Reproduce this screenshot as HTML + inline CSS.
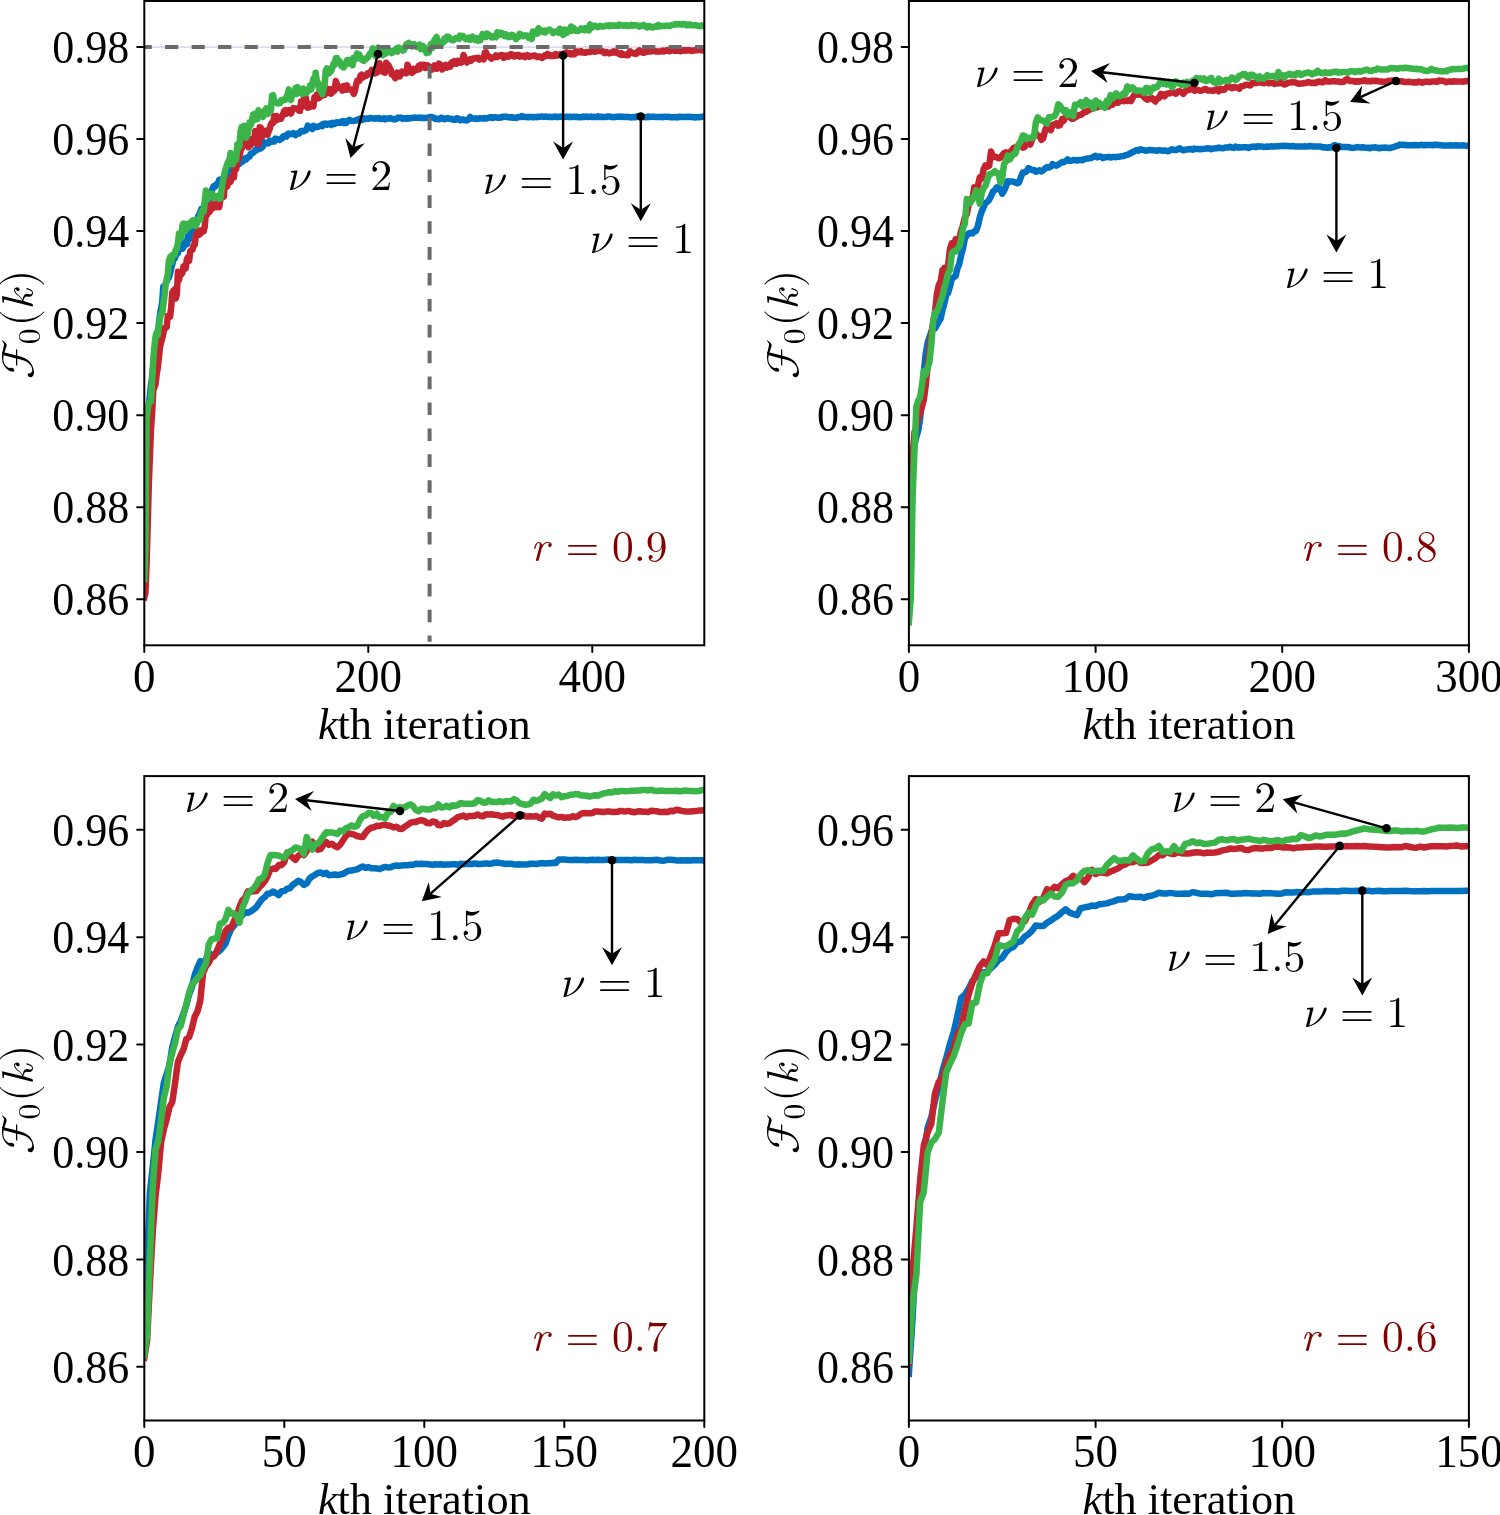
<!DOCTYPE html>
<html><head><meta charset="utf-8"><title>plot</title><style>html,body{margin:0;padding:0;background:#fff;overflow:hidden}svg{display:block}</style></head><body>
<svg width="1500" height="1515" viewBox="0 0 1500 1515">
<rect width="1500" height="1515" fill="#fff"/>
<defs>
<clipPath id="ca"><rect x="144.3" y="1.0" width="560.0" height="644.3"/></clipPath>
<clipPath id="cb"><rect x="908.9" y="1.0" width="560.0" height="644.3"/></clipPath>
<clipPath id="cc"><rect x="144.3" y="776.1" width="560.0" height="644.4"/></clipPath>
<clipPath id="cd"><rect x="908.9" y="776.1" width="560.0" height="644.4"/></clipPath>
</defs>
<g clip-path="url(#ca)">
<line x1="144.3" y1="47.2" x2="704.3" y2="47.2" stroke="#cdd0ea" stroke-width="1.2"/>
<path d="M144.3,584.8 L145.4,563.8 L146.5,448.6 L147.7,412.3 L148.8,404.5 L149.9,395.8 L151.0,384.6 L152.1,376.9 L153.3,365.1 L154.4,359.0 L155.5,352.8 L156.6,344.3 L157.7,334.9 L158.9,323.9 L160.0,314.1 L161.1,308.4 L162.2,302.3 L163.3,286.4 L164.5,286.2 L165.6,284.2 L166.7,281.3 L167.8,278.8 L168.9,277.5 L170.1,273.3 L171.2,268.1 L172.3,264.3 L173.4,259.8 L174.5,258.7 L175.7,256.3 L176.8,251.1 L177.9,253.2 L179.0,245.6 L180.1,246.4 L181.3,244.8 L182.4,248.8 L183.5,247.2 L184.6,242.4 L185.7,241.5 L186.9,244.3 L188.0,236.0 L189.1,239.7 L190.2,234.3 L191.3,231.3 L192.5,228.4 L193.6,229.1 L194.7,223.9 L195.8,223.8 L196.9,222.5 L198.1,216.4 L199.2,215.1 L200.3,211.8 L201.4,208.9 L202.5,210.4 L203.7,208.2 L204.8,202.7 L205.9,202.0 L207.0,200.3 L208.1,201.8 L209.3,197.5 L210.4,198.9 L211.5,192.9 L212.6,188.2 L213.7,186.2 L214.9,186.7 L216.0,185.3 L217.1,183.7 L218.2,182.8 L219.3,179.7 L220.5,179.6 L221.6,179.1 L222.7,179.0 L223.8,176.7 L224.9,174.8 L226.1,174.9 L227.2,174.1 L228.3,169.3 L229.4,169.9 L230.5,170.1 L231.7,170.4 L232.8,169.4 L233.9,168.3 L235.0,163.9 L236.1,165.8 L237.3,160.9 L238.4,164.0 L239.5,163.9 L240.6,162.3 L241.7,161.2 L242.9,161.5 L244.0,158.8 L245.1,158.4 L246.2,159.3 L247.3,158.1 L248.5,156.9 L249.6,156.5 L250.7,153.8 L251.8,153.4 L252.9,153.0 L254.1,151.8 L255.2,150.2 L256.3,150.4 L257.4,147.4 L258.5,149.2 L259.7,147.2 L260.8,148.3 L261.9,147.3 L263.0,146.4 L264.1,142.4 L265.3,143.1 L266.4,143.2 L267.5,142.4 L268.6,143.3 L269.7,140.7 L270.9,141.0 L272.0,141.6 L273.1,140.8 L274.2,141.4 L275.3,138.5 L276.5,138.9 L277.6,139.4 L278.7,139.5 L279.8,140.0 L280.9,138.6 L282.1,138.4 L283.2,136.3 L284.3,135.9 L285.4,135.9 L286.5,136.5 L287.7,133.9 L288.8,133.6 L289.9,134.2 L291.0,133.9 L292.1,134.1 L293.3,133.2 L294.4,134.0 L295.5,135.1 L296.6,133.6 L297.7,133.3 L298.9,133.5 L300.0,132.5 L301.1,131.0 L302.2,131.1 L303.3,131.3 L304.5,130.4 L305.6,130.4 L306.7,129.3 L307.8,125.7 L308.9,127.3 L310.1,127.7 L311.2,128.3 L312.3,129.0 L313.4,125.9 L314.5,127.5 L315.7,126.8 L316.8,126.7 L317.9,127.0 L319.0,126.4 L320.1,126.0 L321.3,125.0 L322.4,126.1 L323.5,123.9 L324.6,124.4 L325.7,123.6 L326.9,124.8 L328.0,124.1 L329.1,123.5 L330.2,123.9 L331.3,125.0 L332.5,122.8 L333.6,124.1 L334.7,124.0 L335.8,122.4 L336.9,122.3 L338.1,122.9 L339.2,122.3 L340.3,122.7 L341.4,121.9 L342.5,121.1 L343.7,122.9 L344.8,121.4 L345.9,123.0 L347.0,122.0 L348.1,120.8 L349.3,119.9 L350.4,120.4 L351.5,121.0 L352.6,121.1 L353.7,120.9 L354.9,120.5 L356.0,120.5 L357.1,120.0 L358.2,119.4 L359.3,118.8 L360.5,119.7 L361.6,120.1 L362.7,119.7 L363.8,118.4 L364.9,118.8 L366.1,118.9 L367.2,118.4 L368.3,118.8 L369.4,118.2 L370.5,117.9 L371.7,118.3 L372.8,118.5 L373.9,118.4 L375.0,118.7 L376.1,118.3 L377.3,118.6 L378.4,117.9 L379.5,118.2 L380.6,118.9 L381.7,118.9 L382.9,118.7 L384.0,118.3 L385.1,119.3 L386.2,119.0 L387.3,118.4 L388.5,118.4 L389.6,118.7 L390.7,118.1 L391.8,118.6 L392.9,119.1 L394.1,119.4 L395.2,119.0 L396.3,118.9 L397.4,118.0 L398.5,117.6 L399.7,117.8 L400.8,117.6 L401.9,118.5 L403.0,118.9 L404.1,118.3 L405.3,118.3 L406.4,118.7 L407.5,118.0 L408.6,118.5 L409.7,118.6 L410.9,118.1 L412.0,118.0 L413.1,117.7 L414.2,117.7 L415.3,117.6 L416.5,117.8 L417.6,117.8 L418.7,117.8 L419.8,118.0 L420.9,117.6 L422.1,118.0 L423.2,117.9 L424.3,117.8 L425.4,118.1 L426.5,117.9 L427.7,117.6 L428.8,117.9 L429.9,117.1 L431.0,116.8 L432.1,117.5 L433.3,117.5 L434.4,118.2 L435.5,118.9 L436.6,118.8 L437.7,118.8 L438.9,119.2 L440.0,119.0 L441.1,117.8 L442.2,118.0 L443.3,118.7 L444.5,119.2 L445.6,118.7 L446.7,118.4 L447.8,118.0 L448.9,118.6 L450.1,119.0 L451.2,118.8 L452.3,119.0 L453.4,119.7 L454.5,119.2 L455.7,119.7 L456.8,118.2 L457.9,118.4 L459.0,119.4 L460.1,120.3 L461.3,119.5 L462.4,119.5 L463.5,119.7 L464.6,120.2 L465.7,120.1 L466.9,120.5 L468.0,119.6 L469.1,119.2 L470.2,117.0 L471.3,118.6 L472.5,118.6 L473.6,118.6 L474.7,118.7 L475.8,118.3 L476.9,118.9 L478.1,118.8 L479.2,118.3 L480.3,118.3 L481.4,118.4 L482.5,118.6 L483.7,118.0 L484.8,118.5 L485.9,118.3 L487.0,118.4 L488.1,117.9 L489.3,117.6 L490.4,117.2 L491.5,117.2 L492.6,117.9 L493.7,117.2 L494.9,117.2 L496.0,117.4 L497.1,117.5 L498.2,117.7 L499.3,117.7 L500.5,117.2 L501.6,117.5 L502.7,116.8 L503.8,116.7 L504.9,116.9 L506.1,116.6 L507.2,117.1 L508.3,117.2 L509.4,117.2 L510.5,117.5 L511.7,117.1 L512.8,117.7 L513.9,117.7 L515.0,117.7 L516.1,118.0 L517.3,117.5 L518.4,116.9 L519.5,116.9 L520.6,117.1 L521.7,116.0 L522.9,116.6 L524.0,117.0 L525.1,117.0 L526.2,117.1 L527.3,117.0 L528.5,117.3 L529.6,117.0 L530.7,117.1 L531.8,116.9 L532.9,117.3 L534.1,117.2 L535.2,117.1 L536.3,116.9 L537.4,117.2 L538.5,116.8 L539.7,116.8 L540.8,116.6 L541.9,116.6 L543.0,116.7 L544.1,116.7 L545.3,116.6 L546.4,116.7 L547.5,116.9 L548.6,117.0 L549.7,116.8 L550.9,116.9 L552.0,117.0 L553.1,117.0 L554.2,116.8 L555.3,116.5 L556.5,116.9 L557.6,116.8 L558.7,116.9 L559.8,116.8 L560.9,116.7 L562.1,116.5 L563.2,116.9 L564.3,116.9 L565.4,116.9 L566.5,116.7 L567.7,116.9 L568.8,117.0 L569.9,116.8 L571.0,117.0 L572.1,116.9 L573.3,116.7 L574.4,116.7 L575.5,117.1 L576.6,116.7 L577.7,117.0 L578.9,117.2 L580.0,117.2 L581.1,117.1 L582.2,117.0 L583.3,116.5 L584.5,116.9 L585.6,116.8 L586.7,116.5 L587.8,116.9 L588.9,116.9 L590.1,116.8 L591.2,116.5 L592.3,117.1 L593.4,116.8 L594.5,117.1 L595.7,117.0 L596.8,117.0 L597.9,116.3 L599.0,116.7 L600.1,117.1 L601.3,116.8 L602.4,117.0 L603.5,117.1 L604.6,116.9 L605.7,117.0 L606.9,116.7 L608.0,116.5 L609.1,116.6 L610.2,116.7 L611.3,117.0 L612.5,117.1 L613.6,117.2 L614.7,117.1 L615.8,116.8 L616.9,116.7 L618.1,116.8 L619.2,116.6 L620.3,116.9 L621.4,116.8 L622.5,116.7 L623.7,117.0 L624.8,116.9 L625.9,116.9 L627.0,116.8 L628.1,117.1 L629.3,117.1 L630.4,117.4 L631.5,117.3 L632.6,117.2 L633.7,117.1 L634.9,117.3 L636.0,117.0 L637.1,116.2 L638.2,116.5 L639.3,116.9 L640.5,117.1 L641.6,117.2 L642.7,117.1 L643.8,116.9 L644.9,117.1 L646.1,117.3 L647.2,116.9 L648.3,116.5 L649.4,117.1 L650.5,116.9 L651.7,116.7 L652.8,116.7 L653.9,116.7 L655.0,116.9 L656.1,116.9 L657.3,117.1 L658.4,117.1 L659.5,116.9 L660.6,117.0 L661.7,116.9 L662.9,117.2 L664.0,116.8 L665.1,116.8 L666.2,116.9 L667.3,116.9 L668.5,116.7 L669.6,117.1 L670.7,117.2 L671.8,117.2 L672.9,117.2 L674.1,117.2 L675.2,117.1 L676.3,117.2 L677.4,117.4 L678.5,117.2 L679.7,116.6 L680.8,116.9 L681.9,117.1 L683.0,117.0 L684.1,117.1 L685.3,116.9 L686.4,116.8 L687.5,117.1 L688.6,116.7 L689.7,116.9 L690.9,117.1 L692.0,116.8 L693.1,117.1 L694.2,117.5 L695.3,117.3 L696.5,117.3 L697.6,117.1 L698.7,117.3 L699.8,117.1 L700.9,117.0 L702.1,116.8 L703.2,116.7 L704.3,116.3" fill="none" stroke="#0070c0" stroke-width="6.5" stroke-linejoin="round" stroke-linecap="square"/>
<path d="M144.3,597.2 L145.4,593.2 L146.5,566.0 L147.7,525.9 L148.8,484.4 L149.9,456.9 L151.0,428.4 L152.1,413.7 L153.3,390.4 L154.4,387.3 L155.5,384.6 L156.6,374.9 L157.7,368.3 L158.9,357.8 L160.0,347.1 L161.1,342.2 L162.2,338.7 L163.3,333.6 L164.5,328.0 L165.6,327.8 L166.7,327.3 L167.8,315.7 L168.9,317.2 L170.1,316.9 L171.2,307.2 L172.3,292.3 L173.4,290.8 L174.5,289.5 L175.7,298.5 L176.8,294.8 L177.9,271.8 L179.0,280.1 L180.1,274.8 L181.3,274.4 L182.4,272.7 L183.5,266.2 L184.6,269.2 L185.7,268.4 L186.9,258.9 L188.0,257.2 L189.1,260.8 L190.2,251.4 L191.3,250.3 L192.5,249.7 L193.6,245.0 L194.7,244.8 L195.8,236.2 L196.9,233.2 L198.1,230.4 L199.2,234.8 L200.3,233.7 L201.4,230.4 L202.5,231.7 L203.7,231.2 L204.8,226.3 L205.9,212.5 L207.0,214.9 L208.1,208.8 L209.3,212.1 L210.4,210.6 L211.5,204.4 L212.6,208.1 L213.7,207.1 L214.9,201.2 L216.0,207.3 L217.1,204.3 L218.2,205.0 L219.3,207.1 L220.5,198.6 L221.6,197.3 L222.7,197.1 L223.8,196.7 L224.9,181.5 L226.1,186.7 L227.2,186.6 L228.3,180.7 L229.4,181.0 L230.5,181.9 L231.7,177.0 L232.8,177.3 L233.9,177.3 L235.0,167.1 L236.1,169.3 L237.3,163.4 L238.4,158.4 L239.5,156.1 L240.6,150.4 L241.7,148.5 L242.9,144.5 L244.0,135.5 L245.1,138.8 L246.2,139.8 L247.3,141.1 L248.5,147.3 L249.6,144.3 L250.7,145.0 L251.8,138.7 L252.9,138.6 L254.1,142.5 L255.2,131.0 L256.3,134.0 L257.4,136.7 L258.5,144.2 L259.7,127.2 L260.8,127.7 L261.9,137.3 L263.0,133.3 L264.1,130.9 L265.3,134.1 L266.4,130.5 L267.5,134.8 L268.6,131.4 L269.7,128.9 L270.9,124.5 L272.0,122.6 L273.1,123.0 L274.2,116.1 L275.3,120.9 L276.5,116.0 L277.6,119.7 L278.7,117.6 L279.8,118.5 L280.9,118.8 L282.1,116.4 L283.2,113.7 L284.3,110.9 L285.4,110.1 L286.5,113.6 L287.7,111.8 L288.8,110.1 L289.9,111.5 L291.0,113.5 L292.1,110.6 L293.3,108.1 L294.4,108.5 L295.5,108.5 L296.6,108.4 L297.7,109.0 L298.9,110.8 L300.0,110.8 L301.1,101.5 L302.2,106.7 L303.3,101.6 L304.5,96.0 L305.6,96.9 L306.7,102.4 L307.8,107.8 L308.9,103.9 L310.1,107.0 L311.2,104.5 L312.3,105.2 L313.4,106.2 L314.5,97.2 L315.7,99.1 L316.8,94.5 L317.9,94.3 L319.0,98.2 L320.1,94.4 L321.3,96.3 L322.4,93.6 L323.5,92.3 L324.6,94.9 L325.7,87.9 L326.9,88.6 L328.0,89.1 L329.1,92.8 L330.2,89.1 L331.3,93.7 L332.5,89.5 L333.6,91.3 L334.7,90.4 L335.8,81.0 L336.9,84.1 L338.1,85.8 L339.2,87.5 L340.3,88.3 L341.4,88.3 L342.5,90.6 L343.7,85.9 L344.8,86.0 L345.9,89.6 L347.0,85.3 L348.1,89.4 L349.3,89.2 L350.4,89.6 L351.5,89.6 L352.6,89.8 L353.7,93.9 L354.9,91.0 L356.0,85.2 L357.1,80.7 L358.2,81.1 L359.3,81.0 L360.5,75.6 L361.6,74.6 L362.7,77.6 L363.8,76.6 L364.9,75.9 L366.1,76.0 L367.2,73.5 L368.3,73.1 L369.4,74.1 L370.5,72.7 L371.7,70.0 L372.8,73.5 L373.9,73.1 L375.0,73.4 L376.1,69.1 L377.3,72.5 L378.4,69.3 L379.5,63.3 L380.6,68.6 L381.7,68.9 L382.9,71.8 L384.0,72.4 L385.1,72.7 L386.2,62.8 L387.3,65.5 L388.5,65.2 L389.6,68.2 L390.7,69.5 L391.8,74.5 L392.9,73.6 L394.1,75.8 L395.2,78.2 L396.3,76.2 L397.4,72.5 L398.5,73.2 L399.7,76.5 L400.8,73.1 L401.9,71.8 L403.0,72.8 L404.1,73.0 L405.3,72.2 L406.4,73.3 L407.5,64.7 L408.6,67.8 L409.7,68.7 L410.9,70.6 L412.0,72.9 L413.1,68.9 L414.2,71.0 L415.3,70.3 L416.5,68.7 L417.6,69.5 L418.7,66.1 L419.8,69.0 L420.9,64.9 L422.1,65.5 L423.2,64.8 L424.3,64.8 L425.4,67.9 L426.5,66.2 L427.7,65.3 L428.8,66.3 L429.9,66.9 L431.0,69.8 L432.1,69.5 L433.3,67.2 L434.4,65.5 L435.5,67.8 L436.6,68.7 L437.7,67.5 L438.9,63.7 L440.0,64.7 L441.1,66.6 L442.2,69.5 L443.3,65.8 L444.5,67.1 L445.6,64.8 L446.7,67.7 L447.8,65.6 L448.9,65.8 L450.1,66.6 L451.2,63.0 L452.3,62.1 L453.4,63.9 L454.5,61.0 L455.7,63.2 L456.8,63.6 L457.9,60.8 L459.0,61.7 L460.1,60.9 L461.3,62.6 L462.4,60.7 L463.5,55.0 L464.6,57.8 L465.7,60.4 L466.9,62.5 L468.0,60.8 L469.1,61.0 L470.2,59.2 L471.3,60.5 L472.5,58.8 L473.6,58.4 L474.7,58.5 L475.8,58.0 L476.9,58.2 L478.1,57.9 L479.2,59.5 L480.3,58.5 L481.4,58.7 L482.5,58.7 L483.7,59.4 L484.8,52.7 L485.9,52.1 L487.0,54.9 L488.1,55.9 L489.3,56.7 L490.4,57.6 L491.5,58.6 L492.6,57.6 L493.7,57.3 L494.9,57.1 L496.0,55.3 L497.1,56.9 L498.2,56.3 L499.3,55.9 L500.5,55.3 L501.6,55.1 L502.7,55.2 L503.8,57.9 L504.9,56.5 L506.1,55.6 L507.2,55.5 L508.3,56.7 L509.4,56.2 L510.5,54.3 L511.7,54.2 L512.8,55.6 L513.9,56.4 L515.0,56.3 L516.1,55.1 L517.3,55.7 L518.4,54.9 L519.5,56.5 L520.6,55.8 L521.7,56.2 L522.9,55.7 L524.0,55.8 L525.1,57.0 L526.2,56.0 L527.3,55.1 L528.5,56.0 L529.6,56.8 L530.7,56.1 L531.8,56.1 L532.9,56.0 L534.1,55.4 L535.2,55.8 L536.3,56.3 L537.4,57.1 L538.5,56.4 L539.7,56.4 L540.8,57.1 L541.9,58.0 L543.0,57.3 L544.1,56.1 L545.3,55.1 L546.4,55.9 L547.5,53.9 L548.6,55.5 L549.7,55.0 L550.9,56.1 L552.0,56.1 L553.1,55.2 L554.2,55.9 L555.3,54.0 L556.5,54.5 L557.6,55.4 L558.7,54.5 L559.8,54.5 L560.9,54.3 L562.1,55.0 L563.2,53.7 L564.3,53.4 L565.4,53.6 L566.5,52.4 L567.7,53.8 L568.8,53.5 L569.9,52.8 L571.0,54.4 L572.1,53.8 L573.3,54.2 L574.4,54.4 L575.5,51.4 L576.6,51.4 L577.7,52.3 L578.9,51.5 L580.0,52.2 L581.1,51.3 L582.2,52.6 L583.3,52.4 L584.5,52.7 L585.6,52.7 L586.7,52.0 L587.8,51.9 L588.9,52.1 L590.1,52.0 L591.2,51.1 L592.3,51.0 L593.4,51.2 L594.5,51.8 L595.7,51.5 L596.8,50.3 L597.9,51.0 L599.0,51.1 L600.1,50.2 L601.3,51.0 L602.4,51.2 L603.5,52.3 L604.6,53.1 L605.7,52.0 L606.9,52.2 L608.0,52.9 L609.1,53.4 L610.2,53.1 L611.3,52.3 L612.5,52.6 L613.6,51.4 L614.7,52.6 L615.8,51.8 L616.9,52.3 L618.1,53.4 L619.2,54.1 L620.3,54.6 L621.4,53.3 L622.5,54.9 L623.7,54.3 L624.8,54.9 L625.9,55.2 L627.0,54.3 L628.1,55.1 L629.3,52.2 L630.4,51.4 L631.5,52.9 L632.6,53.1 L633.7,53.4 L634.9,53.0 L636.0,54.0 L637.1,53.4 L638.2,51.2 L639.3,50.4 L640.5,51.6 L641.6,52.2 L642.7,52.5 L643.8,52.8 L644.9,52.0 L646.1,51.6 L647.2,51.7 L648.3,51.5 L649.4,51.6 L650.5,51.4 L651.7,51.3 L652.8,51.0 L653.9,51.0 L655.0,50.9 L656.1,51.7 L657.3,51.4 L658.4,51.4 L659.5,51.4 L660.6,51.4 L661.7,51.3 L662.9,50.6 L664.0,51.5 L665.1,50.9 L666.2,50.7 L667.3,50.1 L668.5,50.7 L669.6,51.2 L670.7,50.7 L671.8,49.9 L672.9,49.8 L674.1,50.7 L675.2,50.8 L676.3,50.6 L677.4,50.7 L678.5,50.8 L679.7,50.9 L680.8,51.2 L681.9,50.7 L683.0,50.4 L684.1,50.0 L685.3,50.7 L686.4,50.5 L687.5,50.3 L688.6,50.1 L689.7,50.5 L690.9,50.8 L692.0,50.9 L693.1,50.5 L694.2,50.5 L695.3,50.3 L696.5,50.3 L697.6,49.7 L698.7,50.1 L699.8,50.1 L700.9,50.2 L702.1,50.0 L703.2,50.3 L704.3,50.6" fill="none" stroke="#c4242f" stroke-width="6.5" stroke-linejoin="round" stroke-linecap="square"/>
<path d="M144.3,579.2 L145.4,547.9 L146.5,419.6 L147.7,409.7 L148.8,403.6 L149.9,401.3 L151.0,401.5 L152.1,380.5 L153.3,359.3 L154.4,346.5 L155.5,336.9 L156.6,332.4 L157.7,335.3 L158.9,326.1 L160.0,318.5 L161.1,313.8 L162.2,313.3 L163.3,305.0 L164.5,296.1 L165.6,284.5 L166.7,278.9 L167.8,274.0 L168.9,260.6 L170.1,257.2 L171.2,262.3 L172.3,255.0 L173.4,255.4 L174.5,255.1 L175.7,249.7 L176.8,248.5 L177.9,243.5 L179.0,233.4 L180.1,236.7 L181.3,237.7 L182.4,225.4 L183.5,223.5 L184.6,223.9 L185.7,230.5 L186.9,226.1 L188.0,227.6 L189.1,223.4 L190.2,222.6 L191.3,225.6 L192.5,220.6 L193.6,220.2 L194.7,225.1 L195.8,226.0 L196.9,223.5 L198.1,220.0 L199.2,218.1 L200.3,219.5 L201.4,212.8 L202.5,210.4 L203.7,211.7 L204.8,200.5 L205.9,190.5 L207.0,199.7 L208.1,197.7 L209.3,194.2 L210.4,193.6 L211.5,196.3 L212.6,194.2 L213.7,198.3 L214.9,198.1 L216.0,197.9 L217.1,196.2 L218.2,195.6 L219.3,198.8 L220.5,198.3 L221.6,189.6 L222.7,182.4 L223.8,176.8 L224.9,171.4 L226.1,167.5 L227.2,164.4 L228.3,161.3 L229.4,160.7 L230.5,153.0 L231.7,154.9 L232.8,164.2 L233.9,156.0 L235.0,156.6 L236.1,159.9 L237.3,144.6 L238.4,148.4 L239.5,145.5 L240.6,131.2 L241.7,127.1 L242.9,130.1 L244.0,125.7 L245.1,129.7 L246.2,137.7 L247.3,135.4 L248.5,129.7 L249.6,122.4 L250.7,125.3 L251.8,122.1 L252.9,114.9 L254.1,114.0 L255.2,119.6 L256.3,117.0 L257.4,119.1 L258.5,110.3 L259.7,116.4 L260.8,113.5 L261.9,114.8 L263.0,116.8 L264.1,111.0 L265.3,110.3 L266.4,108.1 L267.5,114.0 L268.6,113.0 L269.7,108.0 L270.9,110.5 L272.0,95.7 L273.1,95.1 L274.2,101.4 L275.3,101.8 L276.5,102.9 L277.6,103.5 L278.7,103.1 L279.8,103.2 L280.9,100.4 L282.1,101.0 L283.2,99.8 L284.3,99.3 L285.4,99.7 L286.5,96.8 L287.7,94.5 L288.8,89.4 L289.9,98.1 L291.0,100.0 L292.1,93.4 L293.3,93.2 L294.4,93.3 L295.5,88.1 L296.6,94.0 L297.7,87.1 L298.9,92.2 L300.0,91.7 L301.1,89.4 L302.2,93.9 L303.3,88.5 L304.5,91.8 L305.6,93.2 L306.7,92.7 L307.8,90.9 L308.9,90.1 L310.1,85.3 L311.2,89.7 L312.3,84.2 L313.4,78.6 L314.5,81.7 L315.7,72.8 L316.8,80.9 L317.9,82.6 L319.0,89.2 L320.1,85.1 L321.3,91.2 L322.4,94.0 L323.5,88.4 L324.6,85.2 L325.7,70.9 L326.9,68.4 L328.0,69.4 L329.1,73.4 L330.2,70.8 L331.3,70.9 L332.5,67.3 L333.6,63.5 L334.7,64.8 L335.8,58.3 L336.9,58.1 L338.1,62.9 L339.2,60.8 L340.3,62.6 L341.4,66.1 L342.5,64.0 L343.7,67.4 L344.8,65.4 L345.9,63.7 L347.0,60.4 L348.1,63.6 L349.3,59.9 L350.4,61.6 L351.5,62.1 L352.6,65.3 L353.7,57.9 L354.9,59.2 L356.0,59.1 L357.1,53.4 L358.2,54.7 L359.3,54.6 L360.5,58.4 L361.6,59.8 L362.7,59.9 L363.8,60.9 L364.9,58.5 L366.1,59.0 L367.2,57.9 L368.3,57.0 L369.4,54.3 L370.5,52.8 L371.7,52.3 L372.8,48.3 L373.9,54.3 L375.0,55.3 L376.1,56.5 L377.3,54.5 L378.4,47.6 L379.5,51.9 L380.6,49.6 L381.7,51.2 L382.9,55.2 L384.0,50.9 L385.1,49.6 L386.2,53.5 L387.3,49.3 L388.5,49.9 L389.6,51.1 L390.7,50.9 L391.8,53.1 L392.9,50.9 L394.1,50.9 L395.2,50.3 L396.3,48.7 L397.4,51.7 L398.5,47.5 L399.7,49.3 L400.8,49.0 L401.9,48.6 L403.0,50.6 L404.1,50.1 L405.3,47.1 L406.4,44.5 L407.5,43.7 L408.6,43.0 L409.7,45.6 L410.9,44.2 L412.0,46.3 L413.1,45.5 L414.2,44.1 L415.3,45.6 L416.5,46.9 L417.6,47.0 L418.7,45.7 L419.8,44.6 L420.9,49.2 L422.1,46.6 L423.2,46.3 L424.3,47.6 L425.4,50.8 L426.5,53.0 L427.7,48.5 L428.8,52.5 L429.9,47.5 L431.0,43.9 L432.1,48.2 L433.3,44.6 L434.4,40.3 L435.5,38.7 L436.6,36.9 L437.7,42.4 L438.9,41.8 L440.0,41.5 L441.1,42.8 L442.2,41.6 L443.3,42.5 L444.5,38.5 L445.6,40.2 L446.7,36.8 L447.8,36.8 L448.9,37.0 L450.1,38.7 L451.2,39.9 L452.3,40.2 L453.4,40.2 L454.5,39.2 L455.7,38.1 L456.8,38.0 L457.9,38.4 L459.0,38.8 L460.1,35.7 L461.3,36.4 L462.4,35.7 L463.5,36.5 L464.6,38.0 L465.7,39.1 L466.9,38.3 L468.0,39.2 L469.1,37.7 L470.2,39.9 L471.3,37.8 L472.5,36.7 L473.6,38.6 L474.7,39.8 L475.8,38.2 L476.9,38.1 L478.1,40.8 L479.2,40.1 L480.3,40.2 L481.4,37.7 L482.5,34.2 L483.7,34.7 L484.8,36.6 L485.9,37.1 L487.0,33.5 L488.1,34.2 L489.3,35.9 L490.4,35.9 L491.5,37.4 L492.6,37.6 L493.7,36.2 L494.9,36.4 L496.0,37.2 L497.1,32.4 L498.2,33.0 L499.3,32.5 L500.5,34.6 L501.6,32.8 L502.7,34.7 L503.8,34.1 L504.9,36.0 L506.1,34.5 L507.2,35.2 L508.3,37.0 L509.4,35.8 L510.5,36.7 L511.7,34.7 L512.8,35.1 L513.9,36.8 L515.0,38.0 L516.1,39.0 L517.3,36.8 L518.4,37.0 L519.5,33.8 L520.6,34.3 L521.7,35.0 L522.9,36.2 L524.0,36.0 L525.1,35.4 L526.2,36.0 L527.3,35.6 L528.5,37.7 L529.6,37.8 L530.7,36.3 L531.8,39.1 L532.9,31.4 L534.1,31.6 L535.2,33.5 L536.3,33.6 L537.4,33.7 L538.5,28.2 L539.7,29.7 L540.8,31.1 L541.9,31.6 L543.0,32.1 L544.1,30.7 L545.3,32.3 L546.4,30.4 L547.5,30.4 L548.6,30.3 L549.7,29.6 L550.9,30.9 L552.0,31.4 L553.1,33.1 L554.2,32.1 L555.3,31.5 L556.5,31.6 L557.6,31.6 L558.7,32.7 L559.8,28.7 L560.9,29.9 L562.1,31.5 L563.2,35.0 L564.3,29.5 L565.4,31.9 L566.5,33.1 L567.7,30.1 L568.8,29.4 L569.9,31.1 L571.0,26.5 L572.1,30.7 L573.3,27.7 L574.4,28.8 L575.5,30.8 L576.6,30.8 L577.7,31.0 L578.9,30.4 L580.0,29.8 L581.1,28.3 L582.2,28.9 L583.3,29.8 L584.5,30.3 L585.6,28.2 L586.7,29.2 L587.8,29.1 L588.9,30.4 L590.1,24.4 L591.2,25.7 L592.3,27.5 L593.4,25.9 L594.5,25.7 L595.7,26.1 L596.8,26.5 L597.9,27.2 L599.0,26.6 L600.1,25.8 L601.3,26.4 L602.4,26.6 L603.5,26.6 L604.6,25.9 L605.7,25.8 L606.9,25.7 L608.0,25.5 L609.1,26.2 L610.2,25.0 L611.3,25.6 L612.5,25.8 L613.6,25.5 L614.7,25.7 L615.8,25.6 L616.9,25.7 L618.1,25.9 L619.2,24.5 L620.3,25.1 L621.4,25.4 L622.5,25.2 L623.7,25.8 L624.8,25.5 L625.9,25.3 L627.0,25.3 L628.1,26.0 L629.3,25.8 L630.4,25.6 L631.5,24.9 L632.6,25.5 L633.7,25.7 L634.9,25.1 L636.0,25.2 L637.1,25.6 L638.2,25.8 L639.3,26.6 L640.5,25.7 L641.6,25.9 L642.7,25.7 L643.8,24.9 L644.9,26.3 L646.1,26.7 L647.2,27.4 L648.3,26.0 L649.4,26.1 L650.5,26.9 L651.7,27.3 L652.8,27.5 L653.9,26.9 L655.0,26.3 L656.1,26.7 L657.3,26.7 L658.4,25.0 L659.5,26.4 L660.6,26.0 L661.7,26.0 L662.9,25.9 L664.0,26.0 L665.1,25.9 L666.2,25.5 L667.3,25.7 L668.5,25.9 L669.6,26.0 L670.7,25.5 L671.8,24.9 L672.9,24.9 L674.1,24.8 L675.2,24.2 L676.3,24.0 L677.4,24.4 L678.5,24.3 L679.7,24.0 L680.8,24.4 L681.9,24.7 L683.0,24.1 L684.1,24.1 L685.3,24.3 L686.4,25.3 L687.5,24.8 L688.6,25.2 L689.7,24.3 L690.9,24.9 L692.0,25.3 L693.1,25.2 L694.2,25.2 L695.3,25.1 L696.5,25.6 L697.6,25.7 L698.7,25.9 L699.8,26.3 L700.9,25.7 L702.1,25.2 L703.2,25.9 L704.3,26.4" fill="none" stroke="#3bb54a" stroke-width="6.5" stroke-linejoin="round" stroke-linecap="square"/>
<line x1="144.3" y1="47.0" x2="704.3" y2="47.0" stroke="#6a6a6a" stroke-width="3.9" stroke-dasharray="13.2 13.3" stroke-dashoffset="5.7"/>
<line x1="429.6" y1="641.8" x2="429.6" y2="47.0" stroke="#6a6a6a" stroke-width="4.0" stroke-dasharray="12.6 13.3" stroke-dashoffset="6.4"/>
</g>
<rect x="144.3" y="1.0" width="560.0" height="644.3" fill="none" stroke="#000" stroke-width="2" stroke-linejoin="miter"/>
<line x1="137.1" y1="599.3" x2="144.3" y2="599.3" stroke="#000" stroke-width="2" stroke-linecap="round"/>
<text transform="translate(129.3,615.4) scale(0.978,1.045)" text-anchor="end" font-family='"Liberation Serif", "Times New Roman", serif' font-size="45">0.86</text>
<line x1="137.1" y1="507.2" x2="144.3" y2="507.2" stroke="#000" stroke-width="2" stroke-linecap="round"/>
<text transform="translate(129.3,523.3) scale(0.978,1.045)" text-anchor="end" font-family='"Liberation Serif", "Times New Roman", serif' font-size="45">0.88</text>
<line x1="137.1" y1="415.2" x2="144.3" y2="415.2" stroke="#000" stroke-width="2" stroke-linecap="round"/>
<text transform="translate(129.3,431.3) scale(0.978,1.045)" text-anchor="end" font-family='"Liberation Serif", "Times New Roman", serif' font-size="45">0.90</text>
<line x1="137.1" y1="323.1" x2="144.3" y2="323.1" stroke="#000" stroke-width="2" stroke-linecap="round"/>
<text transform="translate(129.3,339.2) scale(0.978,1.045)" text-anchor="end" font-family='"Liberation Serif", "Times New Roman", serif' font-size="45">0.92</text>
<line x1="137.1" y1="231.1" x2="144.3" y2="231.1" stroke="#000" stroke-width="2" stroke-linecap="round"/>
<text transform="translate(129.3,247.2) scale(0.978,1.045)" text-anchor="end" font-family='"Liberation Serif", "Times New Roman", serif' font-size="45">0.94</text>
<line x1="137.1" y1="139.1" x2="144.3" y2="139.1" stroke="#000" stroke-width="2" stroke-linecap="round"/>
<text transform="translate(129.3,155.2) scale(0.978,1.045)" text-anchor="end" font-family='"Liberation Serif", "Times New Roman", serif' font-size="45">0.96</text>
<line x1="137.1" y1="47.0" x2="144.3" y2="47.0" stroke="#000" stroke-width="2" stroke-linecap="round"/>
<text transform="translate(129.3,63.1) scale(0.978,1.045)" text-anchor="end" font-family='"Liberation Serif", "Times New Roman", serif' font-size="45">0.98</text>
<line x1="144.3" y1="645.3" x2="144.3" y2="651.9" stroke="#000" stroke-width="2" stroke-linecap="round"/>
<text transform="translate(144.3,691.8) scale(1,1.045)" text-anchor="middle" font-family='"Liberation Serif", "Times New Roman", serif' font-size="45">0</text>
<line x1="368.3" y1="645.3" x2="368.3" y2="651.9" stroke="#000" stroke-width="2" stroke-linecap="round"/>
<text transform="translate(368.3,691.8) scale(1,1.045)" text-anchor="middle" font-family='"Liberation Serif", "Times New Roman", serif' font-size="45">200</text>
<line x1="592.3" y1="645.3" x2="592.3" y2="651.9" stroke="#000" stroke-width="2" stroke-linecap="round"/>
<text transform="translate(592.3,691.8) scale(1,1.045)" text-anchor="middle" font-family='"Liberation Serif", "Times New Roman", serif' font-size="45">400</text>
<text x="424.3" y="739.1" text-anchor="middle" font-family='"Liberation Serif", "Times New Roman", serif' font-size="44.3"><tspan font-style="italic">k</tspan>th iteration</text>
<g transform="translate(33.3,379.0) rotate(-90)" font-family='"Latin Modern Math", "Latin Modern Roman", "Liberation Serif", serif' font-size="45">
<text x="0" y="0" font-family='"Latin Modern Math", "DejaVu Math TeX Gyre", "STIX Two Math", "DejaVu Sans", serif'>ℱ</text>
<text x="34.7" y="6.7" font-size="31.5">0</text>
<text x="52.4" y="0">(</text>
<text x="69.2" y="0" font-family='"Latin Modern Roman", "Liberation Serif", serif' font-style="italic">k</text>
<text x="91.8" y="0">)</text>
</g>
<g font-family='"Latin Modern Math", "Latin Modern Roman", "Liberation Serif", serif' font-size="43.5" fill="#800000">
<text x="530.4" y="560.8" font-family='"Latin Modern Roman", "Liberation Serif", serif' font-style="italic">r</text>
<text x="565.6" y="560.8">=</text>
<text x="612.0" y="560.8">0.9</text>
</g>
<g clip-path="url(#cb)">
<path d="M908.9,610.1 L910.8,571.1 L912.6,462.4 L914.5,445.0 L916.4,436.6 L918.2,430.8 L920.1,418.7 L922.0,396.4 L923.8,372.2 L925.7,353.7 L927.6,342.7 L929.4,337.4 L931.3,331.4 L933.2,329.0 L935.0,328.4 L936.9,325.0 L938.8,321.6 L940.6,318.7 L942.5,310.1 L944.4,303.3 L946.2,295.3 L948.1,293.0 L950.0,286.2 L951.8,278.9 L953.7,277.3 L955.6,275.9 L957.4,268.5 L959.3,263.9 L961.2,254.8 L963.0,248.6 L964.9,238.5 L966.8,235.4 L968.6,233.6 L970.5,232.9 L972.4,233.4 L974.2,231.5 L976.1,231.0 L978.0,225.5 L979.8,217.4 L981.7,211.6 L983.6,207.0 L985.4,203.2 L987.3,201.9 L989.2,199.8 L991.0,196.2 L992.9,191.7 L994.8,190.2 L996.6,187.4 L998.5,187.0 L1000.4,189.6 L1002.2,193.7 L1004.1,190.6 L1006.0,186.3 L1007.8,181.2 L1009.7,181.6 L1011.6,181.6 L1013.4,181.7 L1015.3,182.5 L1017.2,183.3 L1019.0,182.3 L1020.9,177.1 L1022.8,172.4 L1024.6,172.2 L1026.5,171.4 L1028.4,168.1 L1030.2,169.1 L1032.1,169.9 L1034.0,169.9 L1035.8,171.8 L1037.7,171.1 L1039.6,170.3 L1041.4,171.4 L1043.3,170.3 L1045.2,168.4 L1047.0,167.1 L1048.9,167.5 L1050.8,166.6 L1052.6,164.2 L1054.5,165.1 L1056.4,165.7 L1058.2,164.7 L1060.1,163.4 L1062.0,162.1 L1063.8,162.2 L1065.7,161.1 L1067.6,159.4 L1069.4,160.7 L1071.3,160.8 L1073.2,160.1 L1075.0,160.1 L1076.9,160.5 L1078.8,160.0 L1080.6,159.9 L1082.5,160.3 L1084.4,159.2 L1086.2,158.8 L1088.1,158.6 L1090.0,158.1 L1091.8,157.9 L1093.7,156.6 L1095.6,155.9 L1097.4,157.4 L1099.3,156.5 L1101.2,156.8 L1103.0,158.2 L1104.9,157.2 L1106.8,157.2 L1108.6,156.8 L1110.5,157.5 L1112.4,157.1 L1114.2,157.0 L1116.1,157.2 L1118.0,156.7 L1119.8,156.7 L1121.7,156.2 L1123.6,156.1 L1125.4,155.2 L1127.3,154.9 L1129.2,153.9 L1131.0,153.0 L1132.9,152.0 L1134.8,151.1 L1136.6,150.0 L1138.5,150.7 L1140.4,149.2 L1142.2,149.9 L1144.1,150.2 L1146.0,150.8 L1147.8,150.4 L1149.7,149.9 L1151.6,150.3 L1153.4,150.3 L1155.3,150.4 L1157.2,150.9 L1159.0,150.1 L1160.9,150.4 L1162.8,150.8 L1164.6,150.4 L1166.5,150.8 L1168.4,151.3 L1170.2,150.2 L1172.1,149.3 L1174.0,149.9 L1175.8,150.1 L1177.7,149.4 L1179.6,148.2 L1181.4,149.4 L1183.3,150.3 L1185.2,149.8 L1187.0,149.5 L1188.9,149.2 L1190.8,149.0 L1192.6,149.7 L1194.5,148.5 L1196.4,149.1 L1198.2,149.1 L1200.1,149.2 L1202.0,148.9 L1203.8,148.9 L1205.7,148.6 L1207.6,148.3 L1209.4,148.4 L1211.3,149.2 L1213.2,148.7 L1215.0,148.3 L1216.9,148.3 L1218.8,147.6 L1220.6,148.1 L1222.5,148.3 L1224.4,147.8 L1226.2,147.6 L1228.1,147.4 L1230.0,146.7 L1231.8,147.6 L1233.7,147.9 L1235.6,146.6 L1237.4,147.6 L1239.3,147.3 L1241.2,147.4 L1243.0,147.3 L1244.9,147.3 L1246.8,147.3 L1248.6,147.9 L1250.5,147.1 L1252.4,146.7 L1254.2,146.6 L1256.1,147.2 L1258.0,146.2 L1259.8,146.6 L1261.7,146.4 L1263.6,147.0 L1265.4,146.8 L1267.3,146.5 L1269.2,146.7 L1271.0,146.3 L1272.9,146.4 L1274.8,146.4 L1276.6,146.3 L1278.5,146.3 L1280.4,146.1 L1282.2,146.1 L1284.1,145.8 L1286.0,146.0 L1287.8,146.1 L1289.7,146.2 L1291.6,146.2 L1293.4,146.0 L1295.3,146.6 L1297.2,146.4 L1299.0,146.5 L1300.9,146.5 L1302.8,146.4 L1304.6,146.3 L1306.5,146.5 L1308.4,146.3 L1310.2,146.0 L1312.1,146.3 L1314.0,146.6 L1315.8,146.6 L1317.7,146.4 L1319.6,146.5 L1321.4,146.8 L1323.3,147.4 L1325.2,147.3 L1327.0,147.8 L1328.9,147.2 L1330.8,147.6 L1332.6,146.2 L1334.5,145.1 L1336.4,145.8 L1338.2,146.0 L1340.1,146.5 L1342.0,147.1 L1343.8,147.0 L1345.7,147.1 L1347.6,147.0 L1349.4,147.3 L1351.3,147.8 L1353.2,147.9 L1355.0,147.6 L1356.9,147.1 L1358.8,147.3 L1360.6,147.4 L1362.5,147.2 L1364.4,147.5 L1366.2,147.7 L1368.1,147.8 L1370.0,148.2 L1371.8,147.6 L1373.7,147.6 L1375.6,147.3 L1377.4,147.8 L1379.3,148.2 L1381.2,147.8 L1383.0,147.8 L1384.9,147.6 L1386.8,147.8 L1388.6,148.0 L1390.5,148.0 L1392.4,147.3 L1394.2,146.8 L1396.1,146.2 L1398.0,145.6 L1399.8,144.6 L1401.7,144.9 L1403.6,144.8 L1405.4,144.9 L1407.3,145.2 L1409.2,145.3 L1411.0,145.2 L1412.9,145.2 L1414.8,145.1 L1416.6,145.3 L1418.5,145.2 L1420.4,145.1 L1422.2,144.8 L1424.1,145.3 L1426.0,145.0 L1427.8,144.9 L1429.7,145.1 L1431.6,145.0 L1433.4,145.2 L1435.3,144.6 L1437.2,145.1 L1439.0,145.1 L1440.9,145.3 L1442.8,145.5 L1444.6,145.4 L1446.5,145.5 L1448.4,145.4 L1450.2,145.3 L1452.1,145.4 L1454.0,145.5 L1455.8,145.1 L1457.7,145.5 L1459.6,145.5 L1461.4,145.4 L1463.3,145.2 L1465.2,145.6 L1467.0,145.9 L1468.9,145.4" fill="none" stroke="#0070c0" stroke-width="6.5" stroke-linejoin="round" stroke-linecap="square"/>
<path d="M908.9,599.0 L910.8,548.2 L912.6,455.7 L914.5,432.1 L916.4,427.0 L918.2,417.1 L920.1,413.6 L922.0,406.7 L923.8,399.9 L925.7,385.7 L927.6,366.7 L929.4,348.3 L931.3,334.6 L933.2,321.6 L935.0,312.0 L936.9,293.9 L938.8,284.9 L940.6,281.8 L942.5,270.1 L944.4,268.0 L946.2,270.3 L948.1,265.4 L950.0,248.7 L951.8,243.4 L953.7,245.9 L955.6,239.4 L957.4,243.0 L959.3,238.7 L961.2,230.5 L963.0,225.2 L964.9,217.2 L966.8,214.5 L968.6,205.0 L970.5,199.2 L972.4,199.5 L974.2,187.4 L976.1,189.1 L978.0,185.4 L979.8,177.2 L981.7,178.5 L983.6,169.4 L985.4,165.4 L987.3,166.7 L989.2,165.8 L991.0,151.4 L992.9,157.1 L994.8,156.7 L996.6,157.2 L998.5,158.3 L1000.4,157.9 L1002.2,155.3 L1004.1,152.9 L1006.0,152.4 L1007.8,156.1 L1009.7,153.3 L1011.6,150.4 L1013.4,148.1 L1015.3,147.4 L1017.2,146.9 L1019.0,144.3 L1020.9,142.9 L1022.8,147.6 L1024.6,147.1 L1026.5,141.6 L1028.4,141.8 L1030.2,144.6 L1032.1,139.5 L1034.0,135.5 L1035.8,133.2 L1037.7,135.7 L1039.6,136.2 L1041.4,139.9 L1043.3,138.1 L1045.2,130.0 L1047.0,126.0 L1048.9,126.5 L1050.8,130.2 L1052.6,124.9 L1054.5,124.3 L1056.4,123.2 L1058.2,125.8 L1060.1,125.1 L1062.0,119.2 L1063.8,120.7 L1065.7,116.8 L1067.6,116.3 L1069.4,113.5 L1071.3,118.7 L1073.2,118.8 L1075.0,117.2 L1076.9,116.4 L1078.8,115.0 L1080.6,114.9 L1082.5,113.8 L1084.4,111.8 L1086.2,111.8 L1088.1,110.6 L1090.0,109.5 L1091.8,106.5 L1093.7,106.9 L1095.6,107.5 L1097.4,107.3 L1099.3,106.3 L1101.2,105.6 L1103.0,105.3 L1104.9,106.5 L1106.8,104.0 L1108.6,106.5 L1110.5,104.1 L1112.4,104.7 L1114.2,102.8 L1116.1,98.8 L1118.0,102.8 L1119.8,100.7 L1121.7,100.5 L1123.6,101.3 L1125.4,100.5 L1127.3,101.0 L1129.2,99.8 L1131.0,101.0 L1132.9,97.2 L1134.8,94.1 L1136.6,94.2 L1138.5,94.8 L1140.4,94.5 L1142.2,94.8 L1144.1,97.1 L1146.0,98.9 L1147.8,99.8 L1149.7,98.7 L1151.6,97.9 L1153.4,99.7 L1155.3,101.5 L1157.2,98.7 L1159.0,98.1 L1160.9,93.8 L1162.8,94.3 L1164.6,96.4 L1166.5,93.9 L1168.4,93.3 L1170.2,93.3 L1172.1,91.9 L1174.0,92.9 L1175.8,93.7 L1177.7,91.7 L1179.6,91.2 L1181.4,92.0 L1183.3,93.8 L1185.2,91.1 L1187.0,90.4 L1188.9,90.1 L1190.8,88.4 L1192.6,89.2 L1194.5,90.8 L1196.4,90.1 L1198.2,89.9 L1200.1,90.7 L1202.0,90.6 L1203.8,89.5 L1205.7,89.0 L1207.6,90.5 L1209.4,90.6 L1211.3,90.4 L1213.2,90.9 L1215.0,89.9 L1216.9,89.2 L1218.8,91.2 L1220.6,88.8 L1222.5,89.8 L1224.4,89.7 L1226.2,87.7 L1228.1,85.6 L1230.0,86.9 L1231.8,88.3 L1233.7,87.1 L1235.6,87.6 L1237.4,87.6 L1239.3,88.7 L1241.2,86.2 L1243.0,86.1 L1244.9,85.2 L1246.8,84.7 L1248.6,85.1 L1250.5,85.5 L1252.4,82.8 L1254.2,82.9 L1256.1,83.2 L1258.0,82.7 L1259.8,82.2 L1261.7,82.6 L1263.6,83.3 L1265.4,82.0 L1267.3,82.8 L1269.2,83.2 L1271.0,83.0 L1272.9,83.1 L1274.8,83.9 L1276.6,82.4 L1278.5,83.4 L1280.4,82.1 L1282.2,83.4 L1284.1,84.5 L1286.0,84.1 L1287.8,82.9 L1289.7,82.6 L1291.6,82.3 L1293.4,82.2 L1295.3,82.4 L1297.2,83.3 L1299.0,83.8 L1300.9,83.6 L1302.8,83.4 L1304.6,83.0 L1306.5,82.9 L1308.4,82.0 L1310.2,82.6 L1312.1,83.1 L1314.0,82.7 L1315.8,83.0 L1317.7,81.7 L1319.6,81.5 L1321.4,82.3 L1323.3,82.2 L1325.2,80.2 L1327.0,81.4 L1328.9,81.4 L1330.8,81.4 L1332.6,81.3 L1334.5,81.3 L1336.4,81.5 L1338.2,81.5 L1340.1,81.9 L1342.0,81.9 L1343.8,81.8 L1345.7,79.7 L1347.6,79.3 L1349.4,80.9 L1351.3,81.1 L1353.2,81.0 L1355.0,81.7 L1356.9,81.3 L1358.8,81.7 L1360.6,81.1 L1362.5,81.1 L1364.4,80.2 L1366.2,81.2 L1368.1,81.0 L1370.0,81.4 L1371.8,80.8 L1373.7,81.0 L1375.6,80.8 L1377.4,81.0 L1379.3,81.4 L1381.2,81.5 L1383.0,81.7 L1384.9,81.8 L1386.8,81.3 L1388.6,80.8 L1390.5,80.9 L1392.4,80.5 L1394.2,81.3 L1396.1,81.0 L1398.0,81.4 L1399.8,81.2 L1401.7,81.3 L1403.6,81.7 L1405.4,81.9 L1407.3,82.1 L1409.2,81.8 L1411.0,82.1 L1412.9,82.4 L1414.8,82.2 L1416.6,82.5 L1418.5,81.6 L1420.4,82.0 L1422.2,82.7 L1424.1,82.1 L1426.0,81.7 L1427.8,81.8 L1429.7,82.1 L1431.6,81.6 L1433.4,81.6 L1435.3,81.5 L1437.2,81.8 L1439.0,80.5 L1440.9,80.7 L1442.8,80.8 L1444.6,81.3 L1446.5,82.2 L1448.4,81.5 L1450.2,81.5 L1452.1,81.8 L1454.0,81.2 L1455.8,81.6 L1457.7,81.4 L1459.6,81.6 L1461.4,81.4 L1463.3,81.7 L1465.2,81.1 L1467.0,81.3 L1468.9,80.9" fill="none" stroke="#c4242f" stroke-width="6.5" stroke-linejoin="round" stroke-linecap="square"/>
<path d="M908.9,622.2 L910.8,598.1 L912.6,496.3 L914.5,449.0 L916.4,406.5 L918.2,400.7 L920.1,397.3 L922.0,385.1 L923.8,371.2 L925.7,374.8 L927.6,368.4 L929.4,362.2 L931.3,344.3 L933.2,321.5 L935.0,312.4 L936.9,311.7 L938.8,306.8 L940.6,300.9 L942.5,296.3 L944.4,287.7 L946.2,281.5 L948.1,273.2 L950.0,269.9 L951.8,253.3 L953.7,251.2 L955.6,251.6 L957.4,248.5 L959.3,246.6 L961.2,239.1 L963.0,228.0 L964.9,223.7 L966.8,199.0 L968.6,202.6 L970.5,202.7 L972.4,198.9 L974.2,196.2 L976.1,190.4 L978.0,195.6 L979.8,203.7 L981.7,193.2 L983.6,188.3 L985.4,185.9 L987.3,180.2 L989.2,174.1 L991.0,173.8 L992.9,172.8 L994.8,171.2 L996.6,173.0 L998.5,173.0 L1000.4,182.5 L1002.2,178.1 L1004.1,164.0 L1006.0,161.5 L1007.8,155.5 L1009.7,159.5 L1011.6,156.3 L1013.4,153.8 L1015.3,153.8 L1017.2,147.6 L1019.0,143.8 L1020.9,141.2 L1022.8,135.5 L1024.6,135.9 L1026.5,139.0 L1028.4,137.8 L1030.2,138.1 L1032.1,138.1 L1034.0,136.7 L1035.8,122.9 L1037.7,117.3 L1039.6,119.6 L1041.4,120.3 L1043.3,120.7 L1045.2,122.4 L1047.0,123.6 L1048.9,117.2 L1050.8,117.7 L1052.6,116.6 L1054.5,116.2 L1056.4,112.8 L1058.2,104.3 L1060.1,105.7 L1062.0,109.1 L1063.8,111.4 L1065.7,110.1 L1067.6,115.2 L1069.4,112.1 L1071.3,114.8 L1073.2,116.1 L1075.0,104.8 L1076.9,105.0 L1078.8,103.9 L1080.6,102.3 L1082.5,106.4 L1084.4,103.0 L1086.2,100.2 L1088.1,104.9 L1090.0,102.6 L1091.8,106.4 L1093.7,108.5 L1095.6,100.5 L1097.4,103.0 L1099.3,102.7 L1101.2,106.3 L1103.0,105.0 L1104.9,107.8 L1106.8,100.7 L1108.6,103.0 L1110.5,95.1 L1112.4,98.5 L1114.2,97.1 L1116.1,93.3 L1118.0,95.6 L1119.8,96.2 L1121.7,95.2 L1123.6,93.1 L1125.4,93.9 L1127.3,86.4 L1129.2,89.6 L1131.0,87.5 L1132.9,87.5 L1134.8,89.9 L1136.6,91.0 L1138.5,90.4 L1140.4,90.9 L1142.2,90.7 L1144.1,92.7 L1146.0,87.9 L1147.8,88.1 L1149.7,92.7 L1151.6,89.8 L1153.4,87.4 L1155.3,87.9 L1157.2,87.0 L1159.0,84.1 L1160.9,81.0 L1162.8,83.8 L1164.6,82.6 L1166.5,84.5 L1168.4,82.2 L1170.2,84.4 L1172.1,87.3 L1174.0,84.7 L1175.8,81.5 L1177.7,82.5 L1179.6,83.6 L1181.4,85.0 L1183.3,82.8 L1185.2,85.0 L1187.0,82.0 L1188.9,83.1 L1190.8,82.2 L1192.6,80.8 L1194.5,80.6 L1196.4,77.9 L1198.2,79.4 L1200.1,78.3 L1202.0,79.6 L1203.8,78.4 L1205.7,81.0 L1207.6,80.6 L1209.4,78.8 L1211.3,77.8 L1213.2,81.8 L1215.0,82.8 L1216.9,82.8 L1218.8,78.6 L1220.6,81.9 L1222.5,80.8 L1224.4,80.8 L1226.2,79.7 L1228.1,81.2 L1230.0,79.9 L1231.8,77.6 L1233.7,78.3 L1235.6,80.2 L1237.4,78.9 L1239.3,75.7 L1241.2,75.5 L1243.0,74.0 L1244.9,73.9 L1246.8,76.6 L1248.6,77.6 L1250.5,74.7 L1252.4,74.7 L1254.2,76.0 L1256.1,76.8 L1258.0,78.8 L1259.8,76.4 L1261.7,78.3 L1263.6,78.8 L1265.4,77.4 L1267.3,75.1 L1269.2,76.5 L1271.0,76.3 L1272.9,76.1 L1274.8,76.1 L1276.6,78.1 L1278.5,72.1 L1280.4,75.4 L1282.2,75.3 L1284.1,77.9 L1286.0,75.2 L1287.8,74.6 L1289.7,73.8 L1291.6,75.3 L1293.4,74.5 L1295.3,75.4 L1297.2,73.3 L1299.0,73.1 L1300.9,75.0 L1302.8,74.3 L1304.6,73.2 L1306.5,73.1 L1308.4,72.4 L1310.2,73.1 L1312.1,74.5 L1314.0,73.1 L1315.8,73.2 L1317.7,70.6 L1319.6,72.4 L1321.4,73.0 L1323.3,73.2 L1325.2,72.2 L1327.0,73.1 L1328.9,72.7 L1330.8,73.0 L1332.6,72.0 L1334.5,72.1 L1336.4,71.6 L1338.2,72.6 L1340.1,72.2 L1342.0,72.2 L1343.8,71.9 L1345.7,72.0 L1347.6,72.7 L1349.4,71.5 L1351.3,71.3 L1353.2,71.2 L1355.0,72.1 L1356.9,71.4 L1358.8,71.0 L1360.6,71.8 L1362.5,70.7 L1364.4,70.6 L1366.2,69.5 L1368.1,70.1 L1370.0,71.0 L1371.8,70.9 L1373.7,69.9 L1375.6,70.0 L1377.4,68.6 L1379.3,69.1 L1381.2,69.5 L1383.0,69.6 L1384.9,69.5 L1386.8,69.6 L1388.6,69.2 L1390.5,67.9 L1392.4,68.2 L1394.2,68.2 L1396.1,68.6 L1398.0,68.7 L1399.8,68.0 L1401.7,67.9 L1403.6,68.2 L1405.4,67.7 L1407.3,68.0 L1409.2,68.3 L1411.0,68.6 L1412.9,68.8 L1414.8,69.1 L1416.6,68.7 L1418.5,69.3 L1420.4,69.1 L1422.2,69.7 L1424.1,70.5 L1426.0,70.9 L1427.8,70.8 L1429.7,70.2 L1431.6,68.8 L1433.4,70.2 L1435.3,70.3 L1437.2,70.7 L1439.0,71.1 L1440.9,71.2 L1442.8,71.4 L1444.6,71.1 L1446.5,71.3 L1448.4,69.9 L1450.2,69.9 L1452.1,68.9 L1454.0,69.3 L1455.8,69.0 L1457.7,69.0 L1459.6,68.9 L1461.4,69.0 L1463.3,68.8 L1465.2,68.0 L1467.0,67.9 L1468.9,68.1" fill="none" stroke="#3bb54a" stroke-width="6.5" stroke-linejoin="round" stroke-linecap="square"/>
</g>
<rect x="908.9" y="1.0" width="560.0" height="644.3" fill="none" stroke="#000" stroke-width="2" stroke-linejoin="miter"/>
<line x1="901.7" y1="599.3" x2="908.9" y2="599.3" stroke="#000" stroke-width="2" stroke-linecap="round"/>
<text transform="translate(893.9,615.4) scale(0.978,1.045)" text-anchor="end" font-family='"Liberation Serif", "Times New Roman", serif' font-size="45">0.86</text>
<line x1="901.7" y1="507.2" x2="908.9" y2="507.2" stroke="#000" stroke-width="2" stroke-linecap="round"/>
<text transform="translate(893.9,523.3) scale(0.978,1.045)" text-anchor="end" font-family='"Liberation Serif", "Times New Roman", serif' font-size="45">0.88</text>
<line x1="901.7" y1="415.2" x2="908.9" y2="415.2" stroke="#000" stroke-width="2" stroke-linecap="round"/>
<text transform="translate(893.9,431.3) scale(0.978,1.045)" text-anchor="end" font-family='"Liberation Serif", "Times New Roman", serif' font-size="45">0.90</text>
<line x1="901.7" y1="323.1" x2="908.9" y2="323.1" stroke="#000" stroke-width="2" stroke-linecap="round"/>
<text transform="translate(893.9,339.2) scale(0.978,1.045)" text-anchor="end" font-family='"Liberation Serif", "Times New Roman", serif' font-size="45">0.92</text>
<line x1="901.7" y1="231.1" x2="908.9" y2="231.1" stroke="#000" stroke-width="2" stroke-linecap="round"/>
<text transform="translate(893.9,247.2) scale(0.978,1.045)" text-anchor="end" font-family='"Liberation Serif", "Times New Roman", serif' font-size="45">0.94</text>
<line x1="901.7" y1="139.1" x2="908.9" y2="139.1" stroke="#000" stroke-width="2" stroke-linecap="round"/>
<text transform="translate(893.9,155.2) scale(0.978,1.045)" text-anchor="end" font-family='"Liberation Serif", "Times New Roman", serif' font-size="45">0.96</text>
<line x1="901.7" y1="47.0" x2="908.9" y2="47.0" stroke="#000" stroke-width="2" stroke-linecap="round"/>
<text transform="translate(893.9,63.1) scale(0.978,1.045)" text-anchor="end" font-family='"Liberation Serif", "Times New Roman", serif' font-size="45">0.98</text>
<line x1="908.9" y1="645.3" x2="908.9" y2="651.9" stroke="#000" stroke-width="2" stroke-linecap="round"/>
<text transform="translate(908.9,691.8) scale(1,1.045)" text-anchor="middle" font-family='"Liberation Serif", "Times New Roman", serif' font-size="45">0</text>
<line x1="1095.6" y1="645.3" x2="1095.6" y2="651.9" stroke="#000" stroke-width="2" stroke-linecap="round"/>
<text transform="translate(1095.6,691.8) scale(1,1.045)" text-anchor="middle" font-family='"Liberation Serif", "Times New Roman", serif' font-size="45">100</text>
<line x1="1282.2" y1="645.3" x2="1282.2" y2="651.9" stroke="#000" stroke-width="2" stroke-linecap="round"/>
<text transform="translate(1282.2,691.8) scale(1,1.045)" text-anchor="middle" font-family='"Liberation Serif", "Times New Roman", serif' font-size="45">200</text>
<line x1="1468.9" y1="645.3" x2="1468.9" y2="651.9" stroke="#000" stroke-width="2" stroke-linecap="round"/>
<text transform="translate(1468.9,691.8) scale(1,1.045)" text-anchor="middle" font-family='"Liberation Serif", "Times New Roman", serif' font-size="45">300</text>
<text x="1188.9" y="739.1" text-anchor="middle" font-family='"Liberation Serif", "Times New Roman", serif' font-size="44.3"><tspan font-style="italic">k</tspan>th iteration</text>
<g transform="translate(797.9,379.0) rotate(-90)" font-family='"Latin Modern Math", "Latin Modern Roman", "Liberation Serif", serif' font-size="45">
<text x="0" y="0" font-family='"Latin Modern Math", "DejaVu Math TeX Gyre", "STIX Two Math", "DejaVu Sans", serif'>ℱ</text>
<text x="34.7" y="6.7" font-size="31.5">0</text>
<text x="52.4" y="0">(</text>
<text x="69.2" y="0" font-family='"Latin Modern Roman", "Liberation Serif", serif' font-style="italic">k</text>
<text x="91.8" y="0">)</text>
</g>
<g font-family='"Latin Modern Math", "Latin Modern Roman", "Liberation Serif", serif' font-size="43.5" fill="#800000">
<text x="1300.4" y="560.8" font-family='"Latin Modern Roman", "Liberation Serif", serif' font-style="italic">r</text>
<text x="1335.6" y="560.8">=</text>
<text x="1382.0" y="560.8">0.8</text>
</g>
<g clip-path="url(#cc)">
<path d="M144.3,1350.2 L147.1,1260.8 L149.9,1192.6 L152.7,1167.7 L155.5,1140.1 L158.3,1121.2 L161.1,1101.6 L163.9,1082.5 L166.7,1074.0 L169.5,1064.9 L172.3,1047.0 L175.1,1036.7 L177.9,1026.8 L180.7,1021.2 L183.5,1013.2 L186.3,1005.3 L189.1,994.5 L191.9,987.3 L194.7,974.9 L197.5,967.5 L200.3,961.2 L203.1,963.2 L205.9,959.4 L208.7,952.4 L211.5,955.8 L214.3,954.6 L217.1,952.6 L219.9,950.6 L222.7,947.1 L225.5,943.7 L228.3,935.7 L231.1,929.2 L233.9,925.8 L236.7,921.9 L239.5,918.3 L242.3,915.3 L245.1,912.1 L247.9,912.7 L250.7,911.4 L253.5,909.6 L256.3,907.2 L259.1,903.2 L261.9,899.3 L264.7,897.1 L267.5,893.7 L270.3,893.4 L273.1,891.5 L275.9,893.1 L278.7,895.1 L281.5,891.3 L284.3,891.1 L287.1,888.8 L289.9,888.2 L292.7,885.0 L295.5,883.0 L298.3,880.7 L301.1,882.2 L303.9,885.0 L306.7,883.3 L309.5,878.6 L312.3,876.4 L315.1,874.8 L317.9,872.9 L320.7,872.5 L323.5,874.0 L326.3,872.8 L329.1,875.3 L331.9,874.9 L334.7,874.5 L337.5,875.0 L340.3,874.5 L343.1,873.9 L345.9,872.2 L348.7,870.7 L351.5,870.6 L354.3,869.9 L357.1,869.4 L359.9,867.7 L362.7,866.5 L365.5,867.9 L368.3,867.1 L371.1,868.2 L373.9,868.3 L376.7,868.4 L379.5,869.0 L382.3,867.9 L385.1,866.9 L387.9,867.4 L390.7,867.3 L393.5,865.9 L396.3,865.6 L399.1,865.7 L401.9,865.4 L404.7,865.2 L407.5,865.2 L410.3,864.8 L413.1,864.8 L415.9,863.7 L418.7,863.9 L421.5,863.8 L424.3,864.0 L427.1,864.1 L429.9,864.4 L432.7,864.9 L435.5,864.2 L438.3,864.6 L441.1,864.3 L443.9,864.8 L446.7,864.5 L449.5,864.6 L452.3,864.3 L455.1,864.2 L457.9,864.7 L460.7,863.7 L463.5,864.3 L466.3,863.8 L469.1,864.0 L471.9,864.0 L474.7,863.4 L477.5,864.0 L480.3,863.9 L483.1,863.8 L485.9,863.4 L488.7,863.8 L491.5,863.6 L494.3,862.7 L497.1,862.6 L499.9,862.9 L502.7,863.4 L505.5,864.0 L508.3,863.7 L511.1,863.7 L513.9,864.4 L516.7,864.6 L519.5,864.3 L522.3,864.6 L525.1,864.6 L527.9,864.2 L530.7,863.7 L533.5,863.8 L536.3,864.1 L539.1,863.5 L541.9,863.1 L544.7,863.4 L547.5,863.3 L550.3,863.2 L553.1,862.7 L555.9,862.9 L558.7,859.5 L561.5,859.6 L564.3,859.6 L567.1,859.8 L569.9,859.9 L572.7,859.9 L575.5,859.8 L578.3,860.1 L581.1,860.1 L583.9,860.1 L586.7,860.2 L589.5,859.9 L592.3,859.8 L595.1,859.9 L597.9,859.8 L600.7,860.1 L603.5,860.1 L606.3,859.8 L609.1,859.6 L611.9,860.1 L614.7,859.9 L617.5,860.0 L620.3,859.9 L623.1,860.1 L625.9,860.0 L628.7,859.9 L631.5,860.2 L634.3,859.8 L637.1,859.9 L639.9,860.0 L642.7,860.1 L645.5,860.3 L648.3,860.2 L651.1,860.3 L653.9,860.0 L656.7,859.8 L659.5,860.3 L662.3,860.7 L665.1,860.4 L667.9,859.7 L670.7,859.8 L673.5,860.0 L676.3,860.4 L679.1,860.6 L681.9,860.3 L684.7,860.6 L687.5,860.3 L690.3,860.5 L693.1,860.3 L695.9,860.2 L698.7,860.2 L701.5,860.3 L704.3,860.6" fill="none" stroke="#0070c0" stroke-width="6.5" stroke-linejoin="round" stroke-linecap="square"/>
<path d="M144.3,1357.8 L147.1,1341.3 L149.9,1283.7 L152.7,1232.6 L155.5,1196.4 L158.3,1172.8 L161.1,1142.3 L163.9,1129.2 L166.7,1119.2 L169.5,1107.1 L172.3,1102.0 L175.1,1082.8 L177.9,1062.0 L180.7,1055.2 L183.5,1049.3 L186.3,1039.1 L189.1,1037.1 L191.9,1028.5 L194.7,1016.8 L197.5,1011.3 L200.3,1000.7 L203.1,972.6 L205.9,966.4 L208.7,962.8 L211.5,957.7 L214.3,956.2 L217.1,950.4 L219.9,943.8 L222.7,938.9 L225.5,931.0 L228.3,927.7 L231.1,928.1 L233.9,921.2 L236.7,915.8 L239.5,907.1 L242.3,900.3 L245.1,897.8 L247.9,891.3 L250.7,891.4 L253.5,891.2 L256.3,891.0 L259.1,887.4 L261.9,884.8 L264.7,881.3 L267.5,876.4 L270.3,869.5 L273.1,868.6 L275.9,868.9 L278.7,865.1 L281.5,865.2 L284.3,862.0 L287.1,852.6 L289.9,854.9 L292.7,857.7 L295.5,859.8 L298.3,855.7 L301.1,854.0 L303.9,855.2 L306.7,851.2 L309.5,843.7 L312.3,841.7 L315.1,846.8 L317.9,849.7 L320.7,848.9 L323.5,844.7 L326.3,842.2 L329.1,844.8 L331.9,843.7 L334.7,846.0 L337.5,847.2 L340.3,844.5 L343.1,840.3 L345.9,836.0 L348.7,833.4 L351.5,833.9 L354.3,834.7 L357.1,836.0 L359.9,836.7 L362.7,837.1 L365.5,832.9 L368.3,829.7 L371.1,827.8 L373.9,827.3 L376.7,825.8 L379.5,826.0 L382.3,824.9 L385.1,824.9 L387.9,825.5 L390.7,826.0 L393.5,827.5 L396.3,826.7 L399.1,828.7 L401.9,828.9 L404.7,826.7 L407.5,825.0 L410.3,822.9 L413.1,822.0 L415.9,821.9 L418.7,820.7 L421.5,820.3 L424.3,820.9 L427.1,823.1 L429.9,823.2 L432.7,821.4 L435.5,822.1 L438.3,824.9 L441.1,825.2 L443.9,823.0 L446.7,823.9 L449.5,823.3 L452.3,821.1 L455.1,819.4 L457.9,817.1 L460.7,816.4 L463.5,815.5 L466.3,817.2 L469.1,816.1 L471.9,815.9 L474.7,815.8 L477.5,814.4 L480.3,815.8 L483.1,816.2 L485.9,814.3 L488.7,814.4 L491.5,814.3 L494.3,814.7 L497.1,814.9 L499.9,815.9 L502.7,816.7 L505.5,815.5 L508.3,815.3 L511.1,815.0 L513.9,816.4 L516.7,815.9 L519.5,816.2 L522.3,815.0 L525.1,816.3 L527.9,816.4 L530.7,816.2 L533.5,816.6 L536.3,816.0 L539.1,817.6 L541.9,818.6 L544.7,813.5 L547.5,814.3 L550.3,813.8 L553.1,815.7 L555.9,816.6 L558.7,817.4 L561.5,816.9 L564.3,817.8 L567.1,817.4 L569.9,817.4 L572.7,816.2 L575.5,817.1 L578.3,816.0 L581.1,813.7 L583.9,813.1 L586.7,813.3 L589.5,813.3 L592.3,813.1 L595.1,811.4 L597.9,811.5 L600.7,811.7 L603.5,812.0 L606.3,811.6 L609.1,811.4 L611.9,811.9 L614.7,812.0 L617.5,811.8 L620.3,810.9 L623.1,811.3 L625.9,811.4 L628.7,810.9 L631.5,811.8 L634.3,812.3 L637.1,811.5 L639.9,811.3 L642.7,811.7 L645.5,811.7 L648.3,811.9 L651.1,810.8 L653.9,811.1 L656.7,811.3 L659.5,811.9 L662.3,812.0 L665.1,811.8 L667.9,812.0 L670.7,810.8 L673.5,811.2 L676.3,809.7 L679.1,810.3 L681.9,810.9 L684.7,811.4 L687.5,811.5 L690.3,811.5 L693.1,811.3 L695.9,811.1 L698.7,810.6 L701.5,810.5 L704.3,810.1" fill="none" stroke="#c4242f" stroke-width="6.5" stroke-linejoin="round" stroke-linecap="square"/>
<path d="M144.3,1355.4 L147.1,1334.3 L149.9,1259.8 L152.7,1188.0 L155.5,1149.5 L158.3,1141.3 L161.1,1120.1 L163.9,1097.5 L166.7,1086.3 L169.5,1063.1 L172.3,1052.6 L175.1,1042.9 L177.9,1029.1 L180.7,1026.0 L183.5,1015.2 L186.3,1004.2 L189.1,992.8 L191.9,984.6 L194.7,981.6 L197.5,978.1 L200.3,975.2 L203.1,968.5 L205.9,963.6 L208.7,944.5 L211.5,939.4 L214.3,938.6 L217.1,938.4 L219.9,923.6 L222.7,922.9 L225.5,919.3 L228.3,909.9 L231.1,913.4 L233.9,913.4 L236.7,916.0 L239.5,922.7 L242.3,908.0 L245.1,901.7 L247.9,894.0 L250.7,890.7 L253.5,888.6 L256.3,884.9 L259.1,879.1 L261.9,878.6 L264.7,874.8 L267.5,863.3 L270.3,855.2 L273.1,854.9 L275.9,855.2 L278.7,855.6 L281.5,856.7 L284.3,857.8 L287.1,853.1 L289.9,851.4 L292.7,850.1 L295.5,847.4 L298.3,848.2 L301.1,849.2 L303.9,854.0 L306.7,837.0 L309.5,843.8 L312.3,849.5 L315.1,844.0 L317.9,843.5 L320.7,840.3 L323.5,836.0 L326.3,832.3 L329.1,832.4 L331.9,832.4 L334.7,833.1 L337.5,834.0 L340.3,830.6 L343.1,831.3 L345.9,828.3 L348.7,827.2 L351.5,825.4 L354.3,826.8 L357.1,826.0 L359.9,820.0 L362.7,816.1 L365.5,815.6 L368.3,813.1 L371.1,813.1 L373.9,815.9 L376.7,813.7 L379.5,817.3 L382.3,816.9 L385.1,818.5 L387.9,812.6 L390.7,812.0 L393.5,805.9 L396.3,808.8 L399.1,807.2 L401.9,807.5 L404.7,807.5 L407.5,805.5 L410.3,804.4 L413.1,806.1 L415.9,810.1 L418.7,811.2 L421.5,808.8 L424.3,809.1 L427.1,809.4 L429.9,809.5 L432.7,808.1 L435.5,808.0 L438.3,804.5 L441.1,807.6 L443.9,807.1 L446.7,805.8 L449.5,807.4 L452.3,805.3 L455.1,805.9 L457.9,805.0 L460.7,803.0 L463.5,803.7 L466.3,803.7 L469.1,803.7 L471.9,803.7 L474.7,803.3 L477.5,800.2 L480.3,800.8 L483.1,802.5 L485.9,802.7 L488.7,800.2 L491.5,801.9 L494.3,802.1 L497.1,802.1 L499.9,801.2 L502.7,802.2 L505.5,801.3 L508.3,801.2 L511.1,801.5 L513.9,799.1 L516.7,800.4 L519.5,803.3 L522.3,803.9 L525.1,804.9 L527.9,804.5 L530.7,803.5 L533.5,799.8 L536.3,800.9 L539.1,799.8 L541.9,798.5 L544.7,794.1 L547.5,796.3 L550.3,798.1 L553.1,794.3 L555.9,795.6 L558.7,794.5 L561.5,797.2 L564.3,796.3 L567.1,796.1 L569.9,794.9 L572.7,794.6 L575.5,794.1 L578.3,794.3 L581.1,795.4 L583.9,795.5 L586.7,795.7 L589.5,796.6 L592.3,795.9 L595.1,795.3 L597.9,795.8 L600.7,794.6 L603.5,793.4 L606.3,793.0 L609.1,792.2 L611.9,792.6 L614.7,791.3 L617.5,791.8 L620.3,790.9 L623.1,791.1 L625.9,791.2 L628.7,791.1 L631.5,790.8 L634.3,790.7 L637.1,790.6 L639.9,790.5 L642.7,790.0 L645.5,790.1 L648.3,790.4 L651.1,789.8 L653.9,790.6 L656.7,791.0 L659.5,790.8 L662.3,790.6 L665.1,791.1 L667.9,791.1 L670.7,791.0 L673.5,790.9 L676.3,790.7 L679.1,791.3 L681.9,791.2 L684.7,790.5 L687.5,790.7 L690.3,791.1 L693.1,790.9 L695.9,791.2 L698.7,791.1 L701.5,790.1 L704.3,790.1" fill="none" stroke="#3bb54a" stroke-width="6.5" stroke-linejoin="round" stroke-linecap="square"/>
</g>
<rect x="144.3" y="776.1" width="560.0" height="644.4" fill="none" stroke="#000" stroke-width="2" stroke-linejoin="miter"/>
<line x1="137.1" y1="1366.8" x2="144.3" y2="1366.8" stroke="#000" stroke-width="2" stroke-linecap="round"/>
<text transform="translate(129.3,1382.9) scale(0.978,1.045)" text-anchor="end" font-family='"Liberation Serif", "Times New Roman", serif' font-size="45">0.86</text>
<line x1="137.1" y1="1259.4" x2="144.3" y2="1259.4" stroke="#000" stroke-width="2" stroke-linecap="round"/>
<text transform="translate(129.3,1275.5) scale(0.978,1.045)" text-anchor="end" font-family='"Liberation Serif", "Times New Roman", serif' font-size="45">0.88</text>
<line x1="137.1" y1="1152.0" x2="144.3" y2="1152.0" stroke="#000" stroke-width="2" stroke-linecap="round"/>
<text transform="translate(129.3,1168.1) scale(0.978,1.045)" text-anchor="end" font-family='"Liberation Serif", "Times New Roman", serif' font-size="45">0.90</text>
<line x1="137.1" y1="1044.6" x2="144.3" y2="1044.6" stroke="#000" stroke-width="2" stroke-linecap="round"/>
<text transform="translate(129.3,1060.7) scale(0.978,1.045)" text-anchor="end" font-family='"Liberation Serif", "Times New Roman", serif' font-size="45">0.92</text>
<line x1="137.1" y1="937.2" x2="144.3" y2="937.2" stroke="#000" stroke-width="2" stroke-linecap="round"/>
<text transform="translate(129.3,953.3) scale(0.978,1.045)" text-anchor="end" font-family='"Liberation Serif", "Times New Roman", serif' font-size="45">0.94</text>
<line x1="137.1" y1="829.8" x2="144.3" y2="829.8" stroke="#000" stroke-width="2" stroke-linecap="round"/>
<text transform="translate(129.3,845.9) scale(0.978,1.045)" text-anchor="end" font-family='"Liberation Serif", "Times New Roman", serif' font-size="45">0.96</text>
<line x1="144.3" y1="1420.5" x2="144.3" y2="1427.1" stroke="#000" stroke-width="2" stroke-linecap="round"/>
<text transform="translate(144.3,1467.0) scale(1,1.045)" text-anchor="middle" font-family='"Liberation Serif", "Times New Roman", serif' font-size="45">0</text>
<line x1="284.3" y1="1420.5" x2="284.3" y2="1427.1" stroke="#000" stroke-width="2" stroke-linecap="round"/>
<text transform="translate(284.3,1467.0) scale(1,1.045)" text-anchor="middle" font-family='"Liberation Serif", "Times New Roman", serif' font-size="45">50</text>
<line x1="424.3" y1="1420.5" x2="424.3" y2="1427.1" stroke="#000" stroke-width="2" stroke-linecap="round"/>
<text transform="translate(424.3,1467.0) scale(1,1.045)" text-anchor="middle" font-family='"Liberation Serif", "Times New Roman", serif' font-size="45">100</text>
<line x1="564.3" y1="1420.5" x2="564.3" y2="1427.1" stroke="#000" stroke-width="2" stroke-linecap="round"/>
<text transform="translate(564.3,1467.0) scale(1,1.045)" text-anchor="middle" font-family='"Liberation Serif", "Times New Roman", serif' font-size="45">150</text>
<line x1="704.3" y1="1420.5" x2="704.3" y2="1427.1" stroke="#000" stroke-width="2" stroke-linecap="round"/>
<text transform="translate(704.3,1467.0) scale(1,1.045)" text-anchor="middle" font-family='"Liberation Serif", "Times New Roman", serif' font-size="45">200</text>
<text x="424.3" y="1514.3" text-anchor="middle" font-family='"Liberation Serif", "Times New Roman", serif' font-size="44.3"><tspan font-style="italic">k</tspan>th iteration</text>
<g transform="translate(33.3,1154.1) rotate(-90)" font-family='"Latin Modern Math", "Latin Modern Roman", "Liberation Serif", serif' font-size="45">
<text x="0" y="0" font-family='"Latin Modern Math", "DejaVu Math TeX Gyre", "STIX Two Math", "DejaVu Sans", serif'>ℱ</text>
<text x="34.7" y="6.7" font-size="31.5">0</text>
<text x="52.4" y="0">(</text>
<text x="69.2" y="0" font-family='"Latin Modern Roman", "Liberation Serif", serif' font-style="italic">k</text>
<text x="91.8" y="0">)</text>
</g>
<g font-family='"Latin Modern Math", "Latin Modern Roman", "Liberation Serif", serif' font-size="43.5" fill="#800000">
<text x="530.4" y="1351.3" font-family='"Latin Modern Roman", "Liberation Serif", serif' font-style="italic">r</text>
<text x="565.6" y="1351.3">=</text>
<text x="612.0" y="1351.3">0.7</text>
</g>
<g clip-path="url(#cd)">
<path d="M908.9,1373.9 L912.6,1317.9 L916.4,1242.1 L920.1,1185.5 L923.8,1155.5 L927.6,1127.7 L931.3,1117.1 L935.0,1100.4 L938.8,1086.3 L942.5,1070.7 L946.2,1058.3 L950.0,1043.7 L953.7,1032.1 L957.4,1016.0 L961.2,998.0 L964.9,994.6 L968.6,988.8 L972.4,981.0 L976.1,977.0 L979.8,971.8 L983.6,972.6 L987.3,971.5 L991.0,968.1 L994.8,964.6 L998.5,960.0 L1002.2,957.9 L1006.0,952.1 L1009.7,948.6 L1013.4,946.9 L1017.2,942.2 L1020.9,941.4 L1024.6,936.7 L1028.4,934.3 L1032.1,930.6 L1035.8,925.4 L1039.6,925.9 L1043.3,926.0 L1047.0,922.8 L1050.8,920.6 L1054.5,917.9 L1058.2,915.7 L1062.0,912.1 L1065.7,909.3 L1069.4,912.4 L1073.2,914.0 L1076.9,915.2 L1080.6,908.4 L1084.4,907.4 L1088.1,906.8 L1091.8,905.6 L1095.6,906.0 L1099.3,904.2 L1103.0,903.9 L1106.8,903.4 L1110.5,902.2 L1114.2,901.2 L1118.0,899.5 L1121.7,899.4 L1125.4,899.0 L1129.2,896.2 L1132.9,896.8 L1136.6,897.1 L1140.4,896.7 L1144.1,897.9 L1147.8,896.3 L1151.6,895.8 L1155.3,894.5 L1159.0,892.8 L1162.8,893.5 L1166.5,893.5 L1170.2,892.9 L1174.0,893.4 L1177.7,893.8 L1181.4,893.7 L1185.2,893.5 L1188.9,893.8 L1192.6,892.1 L1196.4,892.8 L1200.1,893.7 L1203.8,893.7 L1207.6,893.7 L1211.3,894.3 L1215.0,893.3 L1218.8,893.0 L1222.5,893.0 L1226.2,892.7 L1230.0,893.7 L1233.7,893.8 L1237.4,893.6 L1241.2,893.6 L1244.9,893.0 L1248.6,893.2 L1252.4,893.5 L1256.1,893.5 L1259.8,893.7 L1263.6,893.0 L1267.3,893.2 L1271.0,893.1 L1274.8,893.6 L1278.5,893.7 L1282.2,893.4 L1286.0,892.2 L1289.7,892.5 L1293.4,892.4 L1297.2,892.0 L1300.9,892.5 L1304.6,891.9 L1308.4,892.3 L1312.1,891.6 L1315.8,891.6 L1319.6,891.4 L1323.3,891.3 L1327.0,890.9 L1330.8,891.2 L1334.5,891.3 L1338.2,891.5 L1342.0,890.7 L1345.7,890.7 L1349.4,891.0 L1353.2,891.1 L1356.9,890.7 L1360.6,891.1 L1364.4,891.1 L1368.1,890.6 L1371.8,891.2 L1375.6,891.0 L1379.3,890.8 L1383.0,891.3 L1386.8,891.2 L1390.5,890.9 L1394.2,891.0 L1398.0,891.1 L1401.7,891.1 L1405.4,890.7 L1409.2,891.0 L1412.9,891.2 L1416.6,891.2 L1420.4,891.2 L1424.1,891.1 L1427.8,891.2 L1431.6,891.0 L1435.3,890.9 L1439.0,891.0 L1442.8,890.9 L1446.5,891.0 L1450.2,891.0 L1454.0,891.1 L1457.7,891.1 L1461.4,890.9 L1465.2,890.8 L1468.9,890.7" fill="none" stroke="#0070c0" stroke-width="6.5" stroke-linejoin="round" stroke-linecap="square"/>
<path d="M908.9,1362.3 L912.6,1270.1 L916.4,1227.7 L920.1,1180.7 L923.8,1145.3 L927.6,1132.3 L931.3,1124.0 L935.0,1093.0 L938.8,1081.8 L942.5,1077.6 L946.2,1064.6 L950.0,1054.5 L953.7,1049.5 L957.4,1034.2 L961.2,1028.4 L964.9,1010.3 L968.6,994.8 L972.4,982.6 L976.1,974.1 L979.8,966.2 L983.6,961.5 L987.3,965.1 L991.0,955.3 L994.8,945.3 L998.5,933.2 L1002.2,933.2 L1006.0,933.1 L1009.7,920.0 L1013.4,918.8 L1017.2,919.0 L1020.9,922.6 L1024.6,921.5 L1028.4,913.7 L1032.1,904.6 L1035.8,899.2 L1039.6,902.0 L1043.3,897.7 L1047.0,889.2 L1050.8,891.2 L1054.5,886.9 L1058.2,888.1 L1062.0,884.2 L1065.7,881.1 L1069.4,879.7 L1073.2,875.9 L1076.9,878.4 L1080.6,878.0 L1084.4,882.1 L1088.1,877.6 L1091.8,869.8 L1095.6,874.0 L1099.3,872.1 L1103.0,872.9 L1106.8,873.4 L1110.5,871.5 L1114.2,870.1 L1118.0,868.4 L1121.7,865.6 L1125.4,864.5 L1129.2,862.1 L1132.9,862.3 L1136.6,860.0 L1140.4,863.0 L1144.1,862.9 L1147.8,862.6 L1151.6,860.5 L1155.3,858.4 L1159.0,855.1 L1162.8,855.2 L1166.5,851.8 L1170.2,853.5 L1174.0,854.1 L1177.7,852.1 L1181.4,853.2 L1185.2,853.4 L1188.9,853.5 L1192.6,852.7 L1196.4,852.2 L1200.1,852.4 L1203.8,853.3 L1207.6,852.4 L1211.3,852.8 L1215.0,852.5 L1218.8,851.8 L1222.5,850.4 L1226.2,849.9 L1230.0,848.6 L1233.7,848.9 L1237.4,848.5 L1241.2,848.0 L1244.9,849.8 L1248.6,849.9 L1252.4,848.4 L1256.1,848.0 L1259.8,848.5 L1263.6,848.4 L1267.3,847.8 L1271.0,848.1 L1274.8,846.7 L1278.5,846.6 L1282.2,847.4 L1286.0,847.3 L1289.7,847.4 L1293.4,848.3 L1297.2,847.4 L1300.9,847.4 L1304.6,847.1 L1308.4,846.9 L1312.1,846.7 L1315.8,846.6 L1319.6,846.6 L1323.3,846.8 L1327.0,846.7 L1330.8,846.6 L1334.5,846.5 L1338.2,846.0 L1342.0,846.6 L1345.7,846.1 L1349.4,846.2 L1353.2,846.3 L1356.9,846.1 L1360.6,846.2 L1364.4,846.0 L1368.1,846.4 L1371.8,846.6 L1375.6,846.7 L1379.3,846.9 L1383.0,847.2 L1386.8,847.5 L1390.5,847.4 L1394.2,847.1 L1398.0,847.3 L1401.7,847.2 L1405.4,846.0 L1409.2,846.8 L1412.9,847.5 L1416.6,847.7 L1420.4,846.6 L1424.1,847.5 L1427.8,846.7 L1431.6,846.2 L1435.3,846.3 L1439.0,846.3 L1442.8,846.3 L1446.5,846.5 L1450.2,845.9 L1454.0,845.8 L1457.7,845.5 L1461.4,846.6 L1465.2,846.2 L1468.9,846.0" fill="none" stroke="#c4242f" stroke-width="6.5" stroke-linejoin="round" stroke-linecap="square"/>
<path d="M908.9,1360.6 L912.6,1302.1 L916.4,1274.5 L920.1,1202.0 L923.8,1192.0 L927.6,1152.3 L931.3,1142.6 L935.0,1139.0 L938.8,1132.4 L942.5,1101.6 L946.2,1072.4 L950.0,1063.5 L953.7,1056.1 L957.4,1045.4 L961.2,1032.9 L964.9,1024.0 L968.6,1023.6 L972.4,1003.0 L976.1,1002.5 L979.8,984.0 L983.6,973.4 L987.3,973.3 L991.0,965.5 L994.8,959.6 L998.5,945.0 L1002.2,945.9 L1006.0,946.3 L1009.7,944.0 L1013.4,941.5 L1017.2,931.4 L1020.9,927.8 L1024.6,918.5 L1028.4,912.7 L1032.1,914.6 L1035.8,906.0 L1039.6,899.4 L1043.3,900.5 L1047.0,896.7 L1050.8,893.6 L1054.5,896.5 L1058.2,896.7 L1062.0,892.6 L1065.7,884.9 L1069.4,883.2 L1073.2,883.2 L1076.9,880.6 L1080.6,874.5 L1084.4,870.9 L1088.1,870.2 L1091.8,871.7 L1095.6,871.1 L1099.3,870.8 L1103.0,871.0 L1106.8,865.3 L1110.5,861.5 L1114.2,858.1 L1118.0,860.8 L1121.7,860.7 L1125.4,860.0 L1129.2,860.6 L1132.9,855.5 L1136.6,858.7 L1140.4,861.6 L1144.1,861.1 L1147.8,853.5 L1151.6,849.4 L1155.3,848.4 L1159.0,846.0 L1162.8,851.9 L1166.5,851.4 L1170.2,851.8 L1174.0,846.1 L1177.7,850.4 L1181.4,850.9 L1185.2,843.9 L1188.9,843.1 L1192.6,841.2 L1196.4,843.2 L1200.1,842.5 L1203.8,843.9 L1207.6,843.7 L1211.3,843.1 L1215.0,842.6 L1218.8,839.8 L1222.5,839.3 L1226.2,840.3 L1230.0,839.4 L1233.7,839.0 L1237.4,840.7 L1241.2,839.8 L1244.9,839.3 L1248.6,838.7 L1252.4,839.7 L1256.1,840.2 L1259.8,841.2 L1263.6,839.8 L1267.3,840.7 L1271.0,841.7 L1274.8,840.5 L1278.5,840.3 L1282.2,841.6 L1286.0,840.0 L1289.7,839.5 L1293.4,838.8 L1297.2,839.1 L1300.9,835.0 L1304.6,836.3 L1308.4,838.0 L1312.1,837.2 L1315.8,835.4 L1319.6,836.5 L1323.3,835.7 L1327.0,834.7 L1330.8,834.8 L1334.5,834.8 L1338.2,834.3 L1342.0,833.5 L1345.7,833.7 L1349.4,832.6 L1353.2,831.2 L1356.9,830.4 L1360.6,829.5 L1364.4,828.3 L1368.1,829.2 L1371.8,829.5 L1375.6,829.8 L1379.3,830.1 L1383.0,830.5 L1386.8,831.1 L1390.5,830.9 L1394.2,830.6 L1398.0,830.6 L1401.7,831.4 L1405.4,831.1 L1409.2,831.0 L1412.9,831.3 L1416.6,830.7 L1420.4,831.4 L1424.1,831.4 L1427.8,830.4 L1431.6,829.3 L1435.3,828.6 L1439.0,827.6 L1442.8,827.7 L1446.5,827.7 L1450.2,827.5 L1454.0,827.7 L1457.7,827.9 L1461.4,827.6 L1465.2,827.5 L1468.9,827.8" fill="none" stroke="#3bb54a" stroke-width="6.5" stroke-linejoin="round" stroke-linecap="square"/>
</g>
<rect x="908.9" y="776.1" width="560.0" height="644.4" fill="none" stroke="#000" stroke-width="2" stroke-linejoin="miter"/>
<line x1="901.7" y1="1366.8" x2="908.9" y2="1366.8" stroke="#000" stroke-width="2" stroke-linecap="round"/>
<text transform="translate(893.9,1382.9) scale(0.978,1.045)" text-anchor="end" font-family='"Liberation Serif", "Times New Roman", serif' font-size="45">0.86</text>
<line x1="901.7" y1="1259.4" x2="908.9" y2="1259.4" stroke="#000" stroke-width="2" stroke-linecap="round"/>
<text transform="translate(893.9,1275.5) scale(0.978,1.045)" text-anchor="end" font-family='"Liberation Serif", "Times New Roman", serif' font-size="45">0.88</text>
<line x1="901.7" y1="1152.0" x2="908.9" y2="1152.0" stroke="#000" stroke-width="2" stroke-linecap="round"/>
<text transform="translate(893.9,1168.1) scale(0.978,1.045)" text-anchor="end" font-family='"Liberation Serif", "Times New Roman", serif' font-size="45">0.90</text>
<line x1="901.7" y1="1044.6" x2="908.9" y2="1044.6" stroke="#000" stroke-width="2" stroke-linecap="round"/>
<text transform="translate(893.9,1060.7) scale(0.978,1.045)" text-anchor="end" font-family='"Liberation Serif", "Times New Roman", serif' font-size="45">0.92</text>
<line x1="901.7" y1="937.2" x2="908.9" y2="937.2" stroke="#000" stroke-width="2" stroke-linecap="round"/>
<text transform="translate(893.9,953.3) scale(0.978,1.045)" text-anchor="end" font-family='"Liberation Serif", "Times New Roman", serif' font-size="45">0.94</text>
<line x1="901.7" y1="829.8" x2="908.9" y2="829.8" stroke="#000" stroke-width="2" stroke-linecap="round"/>
<text transform="translate(893.9,845.9) scale(0.978,1.045)" text-anchor="end" font-family='"Liberation Serif", "Times New Roman", serif' font-size="45">0.96</text>
<line x1="908.9" y1="1420.5" x2="908.9" y2="1427.1" stroke="#000" stroke-width="2" stroke-linecap="round"/>
<text transform="translate(908.9,1467.0) scale(1,1.045)" text-anchor="middle" font-family='"Liberation Serif", "Times New Roman", serif' font-size="45">0</text>
<line x1="1095.6" y1="1420.5" x2="1095.6" y2="1427.1" stroke="#000" stroke-width="2" stroke-linecap="round"/>
<text transform="translate(1095.6,1467.0) scale(1,1.045)" text-anchor="middle" font-family='"Liberation Serif", "Times New Roman", serif' font-size="45">50</text>
<line x1="1282.2" y1="1420.5" x2="1282.2" y2="1427.1" stroke="#000" stroke-width="2" stroke-linecap="round"/>
<text transform="translate(1282.2,1467.0) scale(1,1.045)" text-anchor="middle" font-family='"Liberation Serif", "Times New Roman", serif' font-size="45">100</text>
<line x1="1468.9" y1="1420.5" x2="1468.9" y2="1427.1" stroke="#000" stroke-width="2" stroke-linecap="round"/>
<text transform="translate(1468.9,1467.0) scale(1,1.045)" text-anchor="middle" font-family='"Liberation Serif", "Times New Roman", serif' font-size="45">150</text>
<text x="1188.9" y="1514.3" text-anchor="middle" font-family='"Liberation Serif", "Times New Roman", serif' font-size="44.3"><tspan font-style="italic">k</tspan>th iteration</text>
<g transform="translate(797.9,1154.1) rotate(-90)" font-family='"Latin Modern Math", "Latin Modern Roman", "Liberation Serif", serif' font-size="45">
<text x="0" y="0" font-family='"Latin Modern Math", "DejaVu Math TeX Gyre", "STIX Two Math", "DejaVu Sans", serif'>ℱ</text>
<text x="34.7" y="6.7" font-size="31.5">0</text>
<text x="52.4" y="0">(</text>
<text x="69.2" y="0" font-family='"Latin Modern Roman", "Liberation Serif", serif' font-style="italic">k</text>
<text x="91.8" y="0">)</text>
</g>
<g font-family='"Latin Modern Math", "Latin Modern Roman", "Liberation Serif", serif' font-size="43.5" fill="#800000">
<text x="1300.4" y="1351.3" font-family='"Latin Modern Roman", "Liberation Serif", serif' font-style="italic">r</text>
<text x="1335.6" y="1351.3">=</text>
<text x="1382.0" y="1351.3">0.6</text>
</g>
<line x1="378" y1="54" x2="353.4" y2="146.9" stroke="#000" stroke-width="2.4"/>
<path d="M350.5,158.0 L345.4,138.0 L353.4,146.9 L364.8,143.2 Z" fill="#000"/>
<circle cx="378" cy="54" r="4.3" fill="#000"/>
<g font-family='"Latin Modern Math", "Latin Modern Roman", "Liberation Serif", serif' font-size="44">
<text x="287.0" y="189.6" font-style="italic">ν</text>
<text x="324.0" y="189.6">=</text>
<text x="370.2" y="189.6">2</text>
</g>
<line x1="563.1" y1="55.5" x2="563.1" y2="148.1" stroke="#000" stroke-width="2.4"/>
<path d="M563.1,159.6 L553.1,141.6 L563.1,148.1 L573.1,141.6 Z" fill="#000"/>
<circle cx="563.1" cy="55.5" r="4.3" fill="#000"/>
<g font-family='"Latin Modern Math", "Latin Modern Roman", "Liberation Serif", serif' font-size="44">
<text x="482.3" y="194.3" font-style="italic">ν</text>
<text x="519.3" y="194.3">=</text>
<text x="565.5" y="194.3">1.5</text>
</g>
<line x1="640.8" y1="116.5" x2="640.8" y2="209.7" stroke="#000" stroke-width="2.4"/>
<path d="M640.8,221.2 L630.8,203.2 L640.8,209.7 L650.8,203.2 Z" fill="#000"/>
<circle cx="640.8" cy="116.5" r="4.3" fill="#000"/>
<g font-family='"Latin Modern Math", "Latin Modern Roman", "Liberation Serif", serif' font-size="44">
<text x="589.0" y="253.1" font-style="italic">ν</text>
<text x="626.0" y="253.1">=</text>
<text x="672.2" y="253.1">1</text>
</g>
<line x1="1194.4" y1="83" x2="1102.4" y2="72.3" stroke="#000" stroke-width="2.4"/>
<path d="M1091.0,71.0 L1110.0,63.1 L1102.4,72.3 L1107.7,83.0 Z" fill="#000"/>
<circle cx="1194.4" cy="83" r="4.3" fill="#000"/>
<g font-family='"Latin Modern Math", "Latin Modern Roman", "Liberation Serif", serif' font-size="44">
<text x="974.1" y="87.3" font-style="italic">ν</text>
<text x="1011.1" y="87.3">=</text>
<text x="1057.3" y="87.3">2</text>
</g>
<line x1="1396" y1="81" x2="1360.5" y2="97.2" stroke="#000" stroke-width="2.4"/>
<path d="M1350.0,102.0 L1362.2,85.4 L1360.5,97.2 L1370.5,103.6 Z" fill="#000"/>
<circle cx="1396" cy="81" r="4.3" fill="#000"/>
<g font-family='"Latin Modern Math", "Latin Modern Roman", "Liberation Serif", serif' font-size="44">
<text x="1203.9" y="130.3" font-style="italic">ν</text>
<text x="1240.9" y="130.3">=</text>
<text x="1287.1" y="130.3">1.5</text>
</g>
<line x1="1336.4" y1="148" x2="1336.4" y2="241.0" stroke="#000" stroke-width="2.4"/>
<path d="M1336.4,252.5 L1326.4,234.5 L1336.4,241.0 L1346.4,234.5 Z" fill="#000"/>
<circle cx="1336.4" cy="148" r="4.3" fill="#000"/>
<g font-family='"Latin Modern Math", "Latin Modern Roman", "Liberation Serif", serif' font-size="44">
<text x="1284.0" y="287.8" font-style="italic">ν</text>
<text x="1321.0" y="287.8">=</text>
<text x="1367.2" y="287.8">1</text>
</g>
<line x1="400" y1="811" x2="306.4" y2="800.3" stroke="#000" stroke-width="2.4"/>
<path d="M295.0,799.0 L314.0,791.1 L306.4,800.3 L311.7,811.0 Z" fill="#000"/>
<circle cx="400" cy="811" r="4.3" fill="#000"/>
<g font-family='"Latin Modern Math", "Latin Modern Roman", "Liberation Serif", serif' font-size="44">
<text x="184.0" y="812.3" font-style="italic">ν</text>
<text x="221.0" y="812.3">=</text>
<text x="267.2" y="812.3">2</text>
</g>
<line x1="520" y1="815.4" x2="430.5" y2="893.7" stroke="#000" stroke-width="2.4"/>
<path d="M421.8,901.3 L428.8,881.9 L430.5,893.7 L441.9,897.0 Z" fill="#000"/>
<circle cx="520" cy="815.4" r="4.3" fill="#000"/>
<g font-family='"Latin Modern Math", "Latin Modern Roman", "Liberation Serif", serif' font-size="44">
<text x="344.0" y="940.4" font-style="italic">ν</text>
<text x="381.0" y="940.4">=</text>
<text x="427.2" y="940.4">1.5</text>
</g>
<line x1="612" y1="860.3" x2="612.0" y2="953.8" stroke="#000" stroke-width="2.4"/>
<path d="M612.0,965.3 L602.0,947.3 L612.0,953.8 L622.0,947.3 Z" fill="#000"/>
<circle cx="612" cy="860.3" r="4.3" fill="#000"/>
<g font-family='"Latin Modern Math", "Latin Modern Roman", "Liberation Serif", serif' font-size="44">
<text x="560.5" y="996.9" font-style="italic">ν</text>
<text x="597.5" y="996.9">=</text>
<text x="643.7" y="996.9">1</text>
</g>
<line x1="1386.5" y1="828.3" x2="1293.9" y2="802.4" stroke="#000" stroke-width="2.4"/>
<path d="M1282.8,799.3 L1302.8,794.5 L1293.9,802.4 L1297.4,813.8 Z" fill="#000"/>
<circle cx="1386.5" cy="828.3" r="4.3" fill="#000"/>
<g font-family='"Latin Modern Math", "Latin Modern Roman", "Liberation Serif", serif' font-size="44">
<text x="1171.1" y="812.3" font-style="italic">ν</text>
<text x="1208.1" y="812.3">=</text>
<text x="1254.3" y="812.3">2</text>
</g>
<line x1="1339.7" y1="845.9" x2="1275.0" y2="925.0" stroke="#000" stroke-width="2.4"/>
<path d="M1267.7,933.9 L1271.4,913.6 L1275.0,925.0 L1286.8,926.3 Z" fill="#000"/>
<circle cx="1339.7" cy="845.9" r="4.3" fill="#000"/>
<g font-family='"Latin Modern Math", "Latin Modern Roman", "Liberation Serif", serif' font-size="44">
<text x="1166.0" y="970.8" font-style="italic">ν</text>
<text x="1203.0" y="970.8">=</text>
<text x="1249.2" y="970.8">1.5</text>
</g>
<line x1="1362.3" y1="890.6" x2="1362.3" y2="984.0" stroke="#000" stroke-width="2.4"/>
<path d="M1362.3,995.5 L1352.3,977.5 L1362.3,984.0 L1372.3,977.5 Z" fill="#000"/>
<circle cx="1362.3" cy="890.6" r="4.3" fill="#000"/>
<g font-family='"Latin Modern Math", "Latin Modern Roman", "Liberation Serif", serif' font-size="44">
<text x="1303.1" y="1027.4" font-style="italic">ν</text>
<text x="1340.1" y="1027.4">=</text>
<text x="1386.3" y="1027.4">1</text>
</g>
</svg>
</body></html>
